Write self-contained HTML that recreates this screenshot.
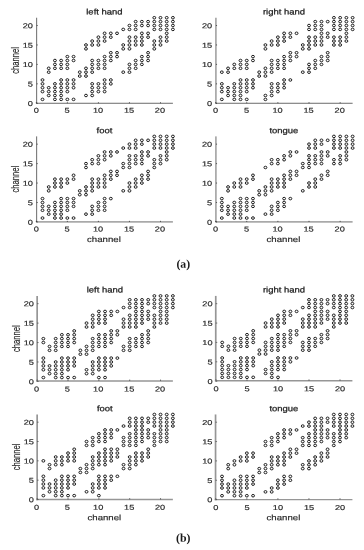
<!DOCTYPE html>
<html><head><meta charset="utf-8"><title>figure</title>
<style>
html,body{margin:0;padding:0;background:#fff;}
svg{display:block}
text.s{font-family:"Liberation Sans",Arial,sans-serif;}
text.r{font-family:"Liberation Serif","Times New Roman",serif;}
</style></head><body>
<svg width="364" height="550" viewBox="0 0 364 550">
<rect width="364" height="550" fill="#fff"/>
<g>
<g>
<path d="M36.65,17.74V103.63" fill="none" stroke="#2a2a2a" stroke-width="0.7"/>
<path d="M36.30,103.28H172.92" fill="none" stroke="#2a2a2a" stroke-width="0.7"/>
<path d="M36.30,103.28v-1.1M36.65,103.28h1.1M67.35,103.28v-1.1M36.65,83.84h1.1M98.40,103.28v-1.1M36.65,64.40h1.1M129.45,103.28v-1.1M36.65,44.96h1.1M160.50,103.28v-1.1M36.65,25.52h1.1" fill="none" stroke="#2a2a2a" stroke-width="0.7"/>
<text class="s" transform="translate(36.20,112.78) rotate(0.03) scale(1.3,1)" font-size="7.1" text-anchor="middle" fill="#262626" stroke="#262626" stroke-width="0.16">0</text>
<text class="s" transform="translate(32.90,105.98) rotate(0.03) scale(1.3,1)" font-size="7.1" text-anchor="end" fill="#262626" stroke="#262626" stroke-width="0.16">0</text>
<text class="s" transform="translate(67.15,112.78) rotate(0.03) scale(1.3,1)" font-size="7.1" text-anchor="middle" fill="#262626" stroke="#262626" stroke-width="0.16">5</text>
<text class="s" transform="translate(32.90,86.54) rotate(0.03) scale(1.3,1)" font-size="7.1" text-anchor="end" fill="#262626" stroke="#262626" stroke-width="0.16">5</text>
<text class="s" transform="translate(98.10,112.78) rotate(0.03) scale(1.3,1)" font-size="7.1" text-anchor="middle" fill="#262626" stroke="#262626" stroke-width="0.16">10</text>
<text class="s" transform="translate(32.90,67.10) rotate(0.03) scale(1.3,1)" font-size="7.1" text-anchor="end" fill="#262626" stroke="#262626" stroke-width="0.16">10</text>
<text class="s" transform="translate(129.05,112.78) rotate(0.03) scale(1.3,1)" font-size="7.1" text-anchor="middle" fill="#262626" stroke="#262626" stroke-width="0.16">15</text>
<text class="s" transform="translate(32.90,47.66) rotate(0.03) scale(1.3,1)" font-size="7.1" text-anchor="end" fill="#262626" stroke="#262626" stroke-width="0.16">15</text>
<text class="s" transform="translate(160.00,112.78) rotate(0.03) scale(1.3,1)" font-size="7.1" text-anchor="middle" fill="#262626" stroke="#262626" stroke-width="0.16">20</text>
<text class="s" transform="translate(32.90,28.22) rotate(0.03) scale(1.3,1)" font-size="7.1" text-anchor="end" fill="#262626" stroke="#262626" stroke-width="0.16">20</text>
<text class="s" transform="translate(104.41,14.59) rotate(0.03) scale(1.17,1)" font-size="8.1" text-anchor="middle" fill="#1a1a1a" stroke="#1a1a1a" stroke-width="0.24">left hand</text>
<text class="s" transform="translate(19.00,60.51) rotate(-90) scale(0.74,1)" font-size="10.3" text-anchor="middle" fill="#262626" stroke="#262626" stroke-width="0.16">channel</text>
<g fill="none" stroke="#1c1c1c" stroke-width="1.0"><ellipse cx="42.51" cy="99.39" rx="1.45" ry="1.28"/><ellipse cx="42.51" cy="91.62" rx="1.45" ry="1.28"/><ellipse cx="42.51" cy="87.73" rx="1.45" ry="1.28"/><ellipse cx="42.51" cy="83.84" rx="1.45" ry="1.28"/><ellipse cx="42.51" cy="79.95" rx="1.45" ry="1.28"/><ellipse cx="48.72" cy="95.50" rx="1.45" ry="1.28"/><ellipse cx="48.72" cy="91.62" rx="1.45" ry="1.28"/><ellipse cx="48.72" cy="87.73" rx="1.45" ry="1.28"/><ellipse cx="48.72" cy="72.18" rx="1.45" ry="1.28"/><ellipse cx="48.72" cy="68.29" rx="1.45" ry="1.28"/><ellipse cx="54.93" cy="99.39" rx="1.45" ry="1.28"/><ellipse cx="54.93" cy="95.50" rx="1.45" ry="1.28"/><ellipse cx="54.93" cy="91.62" rx="1.45" ry="1.28"/><ellipse cx="54.93" cy="87.73" rx="1.45" ry="1.28"/><ellipse cx="54.93" cy="83.84" rx="1.45" ry="1.28"/><ellipse cx="54.93" cy="68.29" rx="1.45" ry="1.28"/><ellipse cx="54.93" cy="64.40" rx="1.45" ry="1.28"/><ellipse cx="54.93" cy="60.51" rx="1.45" ry="1.28"/><ellipse cx="61.14" cy="99.39" rx="1.45" ry="1.28"/><ellipse cx="61.14" cy="95.50" rx="1.45" ry="1.28"/><ellipse cx="61.14" cy="91.62" rx="1.45" ry="1.28"/><ellipse cx="61.14" cy="87.73" rx="1.45" ry="1.28"/><ellipse cx="61.14" cy="83.84" rx="1.45" ry="1.28"/><ellipse cx="61.14" cy="79.95" rx="1.45" ry="1.28"/><ellipse cx="61.14" cy="68.29" rx="1.45" ry="1.28"/><ellipse cx="61.14" cy="64.40" rx="1.45" ry="1.28"/><ellipse cx="61.14" cy="60.51" rx="1.45" ry="1.28"/><ellipse cx="67.35" cy="99.39" rx="1.45" ry="1.28"/><ellipse cx="67.35" cy="91.62" rx="1.45" ry="1.28"/><ellipse cx="67.35" cy="87.73" rx="1.45" ry="1.28"/><ellipse cx="67.35" cy="83.84" rx="1.45" ry="1.28"/><ellipse cx="67.35" cy="79.95" rx="1.45" ry="1.28"/><ellipse cx="67.35" cy="68.29" rx="1.45" ry="1.28"/><ellipse cx="67.35" cy="64.40" rx="1.45" ry="1.28"/><ellipse cx="67.35" cy="60.51" rx="1.45" ry="1.28"/><ellipse cx="67.35" cy="56.62" rx="1.45" ry="1.28"/><ellipse cx="73.56" cy="99.39" rx="1.45" ry="1.28"/><ellipse cx="73.56" cy="87.73" rx="1.45" ry="1.28"/><ellipse cx="73.56" cy="83.84" rx="1.45" ry="1.28"/><ellipse cx="73.56" cy="79.95" rx="1.45" ry="1.28"/><ellipse cx="73.56" cy="60.51" rx="1.45" ry="1.28"/><ellipse cx="73.56" cy="56.62" rx="1.45" ry="1.28"/><ellipse cx="79.77" cy="76.06" rx="1.45" ry="1.28"/><ellipse cx="79.77" cy="72.18" rx="1.45" ry="1.28"/><ellipse cx="85.98" cy="95.50" rx="1.45" ry="1.28"/><ellipse cx="85.98" cy="76.06" rx="1.45" ry="1.28"/><ellipse cx="85.98" cy="72.18" rx="1.45" ry="1.28"/><ellipse cx="85.98" cy="68.29" rx="1.45" ry="1.28"/><ellipse cx="85.98" cy="48.85" rx="1.45" ry="1.28"/><ellipse cx="85.98" cy="44.96" rx="1.45" ry="1.28"/><ellipse cx="92.19" cy="95.50" rx="1.45" ry="1.28"/><ellipse cx="92.19" cy="91.62" rx="1.45" ry="1.28"/><ellipse cx="92.19" cy="87.73" rx="1.45" ry="1.28"/><ellipse cx="92.19" cy="83.84" rx="1.45" ry="1.28"/><ellipse cx="92.19" cy="72.18" rx="1.45" ry="1.28"/><ellipse cx="92.19" cy="68.29" rx="1.45" ry="1.28"/><ellipse cx="92.19" cy="64.40" rx="1.45" ry="1.28"/><ellipse cx="92.19" cy="60.51" rx="1.45" ry="1.28"/><ellipse cx="92.19" cy="44.96" rx="1.45" ry="1.28"/><ellipse cx="92.19" cy="41.07" rx="1.45" ry="1.28"/><ellipse cx="98.40" cy="91.62" rx="1.45" ry="1.28"/><ellipse cx="98.40" cy="87.73" rx="1.45" ry="1.28"/><ellipse cx="98.40" cy="83.84" rx="1.45" ry="1.28"/><ellipse cx="98.40" cy="68.29" rx="1.45" ry="1.28"/><ellipse cx="98.40" cy="64.40" rx="1.45" ry="1.28"/><ellipse cx="98.40" cy="60.51" rx="1.45" ry="1.28"/><ellipse cx="98.40" cy="44.96" rx="1.45" ry="1.28"/><ellipse cx="98.40" cy="41.07" rx="1.45" ry="1.28"/><ellipse cx="98.40" cy="37.18" rx="1.45" ry="1.28"/><ellipse cx="104.61" cy="91.62" rx="1.45" ry="1.28"/><ellipse cx="104.61" cy="87.73" rx="1.45" ry="1.28"/><ellipse cx="104.61" cy="83.84" rx="1.45" ry="1.28"/><ellipse cx="104.61" cy="79.95" rx="1.45" ry="1.28"/><ellipse cx="104.61" cy="68.29" rx="1.45" ry="1.28"/><ellipse cx="104.61" cy="64.40" rx="1.45" ry="1.28"/><ellipse cx="104.61" cy="60.51" rx="1.45" ry="1.28"/><ellipse cx="104.61" cy="56.62" rx="1.45" ry="1.28"/><ellipse cx="104.61" cy="41.07" rx="1.45" ry="1.28"/><ellipse cx="104.61" cy="37.18" rx="1.45" ry="1.28"/><ellipse cx="104.61" cy="33.30" rx="1.45" ry="1.28"/><ellipse cx="110.82" cy="83.84" rx="1.45" ry="1.28"/><ellipse cx="110.82" cy="79.95" rx="1.45" ry="1.28"/><ellipse cx="110.82" cy="60.51" rx="1.45" ry="1.28"/><ellipse cx="110.82" cy="56.62" rx="1.45" ry="1.28"/><ellipse cx="110.82" cy="52.74" rx="1.45" ry="1.28"/><ellipse cx="110.82" cy="37.18" rx="1.45" ry="1.28"/><ellipse cx="110.82" cy="33.30" rx="1.45" ry="1.28"/><ellipse cx="117.03" cy="56.62" rx="1.45" ry="1.28"/><ellipse cx="117.03" cy="52.74" rx="1.45" ry="1.28"/><ellipse cx="117.03" cy="33.30" rx="1.45" ry="1.28"/><ellipse cx="123.24" cy="72.18" rx="1.45" ry="1.28"/><ellipse cx="123.24" cy="48.85" rx="1.45" ry="1.28"/><ellipse cx="123.24" cy="44.96" rx="1.45" ry="1.28"/><ellipse cx="123.24" cy="29.41" rx="1.45" ry="1.28"/><ellipse cx="129.45" cy="72.18" rx="1.45" ry="1.28"/><ellipse cx="129.45" cy="68.29" rx="1.45" ry="1.28"/><ellipse cx="129.45" cy="64.40" rx="1.45" ry="1.28"/><ellipse cx="129.45" cy="48.85" rx="1.45" ry="1.28"/><ellipse cx="129.45" cy="44.96" rx="1.45" ry="1.28"/><ellipse cx="129.45" cy="41.07" rx="1.45" ry="1.28"/><ellipse cx="129.45" cy="37.18" rx="1.45" ry="1.28"/><ellipse cx="129.45" cy="29.41" rx="1.45" ry="1.28"/><ellipse cx="129.45" cy="25.52" rx="1.45" ry="1.28"/><ellipse cx="135.66" cy="68.29" rx="1.45" ry="1.28"/><ellipse cx="135.66" cy="64.40" rx="1.45" ry="1.28"/><ellipse cx="135.66" cy="60.51" rx="1.45" ry="1.28"/><ellipse cx="135.66" cy="44.96" rx="1.45" ry="1.28"/><ellipse cx="135.66" cy="41.07" rx="1.45" ry="1.28"/><ellipse cx="135.66" cy="37.18" rx="1.45" ry="1.28"/><ellipse cx="135.66" cy="29.41" rx="1.45" ry="1.28"/><ellipse cx="135.66" cy="25.52" rx="1.45" ry="1.28"/><ellipse cx="135.66" cy="21.63" rx="1.45" ry="1.28"/><ellipse cx="141.87" cy="64.40" rx="1.45" ry="1.28"/><ellipse cx="141.87" cy="60.51" rx="1.45" ry="1.28"/><ellipse cx="141.87" cy="56.62" rx="1.45" ry="1.28"/><ellipse cx="141.87" cy="44.96" rx="1.45" ry="1.28"/><ellipse cx="141.87" cy="41.07" rx="1.45" ry="1.28"/><ellipse cx="141.87" cy="37.18" rx="1.45" ry="1.28"/><ellipse cx="141.87" cy="33.30" rx="1.45" ry="1.28"/><ellipse cx="141.87" cy="25.52" rx="1.45" ry="1.28"/><ellipse cx="141.87" cy="21.63" rx="1.45" ry="1.28"/><ellipse cx="148.08" cy="60.51" rx="1.45" ry="1.28"/><ellipse cx="148.08" cy="56.62" rx="1.45" ry="1.28"/><ellipse cx="148.08" cy="52.74" rx="1.45" ry="1.28"/><ellipse cx="148.08" cy="37.18" rx="1.45" ry="1.28"/><ellipse cx="148.08" cy="33.30" rx="1.45" ry="1.28"/><ellipse cx="148.08" cy="25.52" rx="1.45" ry="1.28"/><ellipse cx="148.08" cy="21.63" rx="1.45" ry="1.28"/><ellipse cx="154.29" cy="48.85" rx="1.45" ry="1.28"/><ellipse cx="154.29" cy="44.96" rx="1.45" ry="1.28"/><ellipse cx="154.29" cy="41.07" rx="1.45" ry="1.28"/><ellipse cx="154.29" cy="29.41" rx="1.45" ry="1.28"/><ellipse cx="154.29" cy="25.52" rx="1.45" ry="1.28"/><ellipse cx="154.29" cy="21.63" rx="1.45" ry="1.28"/><ellipse cx="154.29" cy="17.74" rx="1.45" ry="1.28"/><ellipse cx="160.50" cy="44.96" rx="1.45" ry="1.28"/><ellipse cx="160.50" cy="41.07" rx="1.45" ry="1.28"/><ellipse cx="160.50" cy="37.18" rx="1.45" ry="1.28"/><ellipse cx="160.50" cy="29.41" rx="1.45" ry="1.28"/><ellipse cx="160.50" cy="25.52" rx="1.45" ry="1.28"/><ellipse cx="160.50" cy="21.63" rx="1.45" ry="1.28"/><ellipse cx="160.50" cy="17.74" rx="1.45" ry="1.28"/><ellipse cx="166.71" cy="41.07" rx="1.45" ry="1.28"/><ellipse cx="166.71" cy="37.18" rx="1.45" ry="1.28"/><ellipse cx="166.71" cy="33.30" rx="1.45" ry="1.28"/><ellipse cx="166.71" cy="29.41" rx="1.45" ry="1.28"/><ellipse cx="166.71" cy="25.52" rx="1.45" ry="1.28"/><ellipse cx="166.71" cy="21.63" rx="1.45" ry="1.28"/><ellipse cx="166.71" cy="17.74" rx="1.45" ry="1.28"/><ellipse cx="172.92" cy="29.41" rx="1.45" ry="1.28"/><ellipse cx="172.92" cy="25.52" rx="1.45" ry="1.28"/><ellipse cx="172.92" cy="21.63" rx="1.45" ry="1.28"/><ellipse cx="172.92" cy="17.74" rx="1.45" ry="1.28"/></g>
</g>
<g>
<path d="M215.95,17.74V103.63" fill="none" stroke="#2a2a2a" stroke-width="0.7"/>
<path d="M215.60,103.28H352.62" fill="none" stroke="#2a2a2a" stroke-width="0.7"/>
<path d="M215.60,103.28v-1.1M215.95,103.28h1.1M246.74,103.28v-1.1M215.95,83.84h1.1M277.88,103.28v-1.1M215.95,64.40h1.1M309.02,103.28v-1.1M215.95,44.96h1.1M340.16,103.28v-1.1M215.95,25.52h1.1" fill="none" stroke="#2a2a2a" stroke-width="0.7"/>
<text class="s" transform="translate(215.50,112.78) rotate(0.03) scale(1.3,1)" font-size="7.1" text-anchor="middle" fill="#262626" stroke="#262626" stroke-width="0.16">0</text>
<text class="s" transform="translate(212.20,105.98) rotate(0.03) scale(1.3,1)" font-size="7.1" text-anchor="end" fill="#262626" stroke="#262626" stroke-width="0.16">0</text>
<text class="s" transform="translate(246.54,112.78) rotate(0.03) scale(1.3,1)" font-size="7.1" text-anchor="middle" fill="#262626" stroke="#262626" stroke-width="0.16">5</text>
<text class="s" transform="translate(212.20,86.54) rotate(0.03) scale(1.3,1)" font-size="7.1" text-anchor="end" fill="#262626" stroke="#262626" stroke-width="0.16">5</text>
<text class="s" transform="translate(277.58,112.78) rotate(0.03) scale(1.3,1)" font-size="7.1" text-anchor="middle" fill="#262626" stroke="#262626" stroke-width="0.16">10</text>
<text class="s" transform="translate(212.20,67.10) rotate(0.03) scale(1.3,1)" font-size="7.1" text-anchor="end" fill="#262626" stroke="#262626" stroke-width="0.16">10</text>
<text class="s" transform="translate(308.62,112.78) rotate(0.03) scale(1.3,1)" font-size="7.1" text-anchor="middle" fill="#262626" stroke="#262626" stroke-width="0.16">15</text>
<text class="s" transform="translate(212.20,47.66) rotate(0.03) scale(1.3,1)" font-size="7.1" text-anchor="end" fill="#262626" stroke="#262626" stroke-width="0.16">15</text>
<text class="s" transform="translate(339.66,112.78) rotate(0.03) scale(1.3,1)" font-size="7.1" text-anchor="middle" fill="#262626" stroke="#262626" stroke-width="0.16">20</text>
<text class="s" transform="translate(212.20,28.22) rotate(0.03) scale(1.3,1)" font-size="7.1" text-anchor="end" fill="#262626" stroke="#262626" stroke-width="0.16">20</text>
<text class="s" transform="translate(283.91,14.59) rotate(0.03) scale(1.17,1)" font-size="8.1" text-anchor="middle" fill="#1a1a1a" stroke="#1a1a1a" stroke-width="0.24">right hand</text>
<g fill="none" stroke="#1c1c1c" stroke-width="1.0"><ellipse cx="221.83" cy="99.39" rx="1.45" ry="1.28"/><ellipse cx="221.83" cy="91.62" rx="1.45" ry="1.28"/><ellipse cx="221.83" cy="87.73" rx="1.45" ry="1.28"/><ellipse cx="221.83" cy="83.84" rx="1.45" ry="1.28"/><ellipse cx="221.83" cy="72.18" rx="1.45" ry="1.28"/><ellipse cx="228.06" cy="95.50" rx="1.45" ry="1.28"/><ellipse cx="228.06" cy="91.62" rx="1.45" ry="1.28"/><ellipse cx="228.06" cy="87.73" rx="1.45" ry="1.28"/><ellipse cx="228.06" cy="72.18" rx="1.45" ry="1.28"/><ellipse cx="228.06" cy="68.29" rx="1.45" ry="1.28"/><ellipse cx="234.28" cy="99.39" rx="1.45" ry="1.28"/><ellipse cx="234.28" cy="95.50" rx="1.45" ry="1.28"/><ellipse cx="234.28" cy="91.62" rx="1.45" ry="1.28"/><ellipse cx="234.28" cy="87.73" rx="1.45" ry="1.28"/><ellipse cx="234.28" cy="83.84" rx="1.45" ry="1.28"/><ellipse cx="234.28" cy="68.29" rx="1.45" ry="1.28"/><ellipse cx="234.28" cy="64.40" rx="1.45" ry="1.28"/><ellipse cx="240.51" cy="99.39" rx="1.45" ry="1.28"/><ellipse cx="240.51" cy="95.50" rx="1.45" ry="1.28"/><ellipse cx="240.51" cy="91.62" rx="1.45" ry="1.28"/><ellipse cx="240.51" cy="87.73" rx="1.45" ry="1.28"/><ellipse cx="240.51" cy="83.84" rx="1.45" ry="1.28"/><ellipse cx="240.51" cy="79.95" rx="1.45" ry="1.28"/><ellipse cx="240.51" cy="68.29" rx="1.45" ry="1.28"/><ellipse cx="240.51" cy="64.40" rx="1.45" ry="1.28"/><ellipse cx="240.51" cy="60.51" rx="1.45" ry="1.28"/><ellipse cx="246.74" cy="99.39" rx="1.45" ry="1.28"/><ellipse cx="246.74" cy="91.62" rx="1.45" ry="1.28"/><ellipse cx="246.74" cy="87.73" rx="1.45" ry="1.28"/><ellipse cx="246.74" cy="83.84" rx="1.45" ry="1.28"/><ellipse cx="246.74" cy="79.95" rx="1.45" ry="1.28"/><ellipse cx="246.74" cy="68.29" rx="1.45" ry="1.28"/><ellipse cx="246.74" cy="64.40" rx="1.45" ry="1.28"/><ellipse cx="246.74" cy="60.51" rx="1.45" ry="1.28"/><ellipse cx="252.97" cy="87.73" rx="1.45" ry="1.28"/><ellipse cx="252.97" cy="83.84" rx="1.45" ry="1.28"/><ellipse cx="252.97" cy="79.95" rx="1.45" ry="1.28"/><ellipse cx="252.97" cy="60.51" rx="1.45" ry="1.28"/><ellipse cx="252.97" cy="56.62" rx="1.45" ry="1.28"/><ellipse cx="259.20" cy="76.06" rx="1.45" ry="1.28"/><ellipse cx="259.20" cy="72.18" rx="1.45" ry="1.28"/><ellipse cx="265.42" cy="99.39" rx="1.45" ry="1.28"/><ellipse cx="265.42" cy="95.50" rx="1.45" ry="1.28"/><ellipse cx="265.42" cy="76.06" rx="1.45" ry="1.28"/><ellipse cx="265.42" cy="72.18" rx="1.45" ry="1.28"/><ellipse cx="265.42" cy="68.29" rx="1.45" ry="1.28"/><ellipse cx="265.42" cy="48.85" rx="1.45" ry="1.28"/><ellipse cx="265.42" cy="44.96" rx="1.45" ry="1.28"/><ellipse cx="271.65" cy="95.50" rx="1.45" ry="1.28"/><ellipse cx="271.65" cy="91.62" rx="1.45" ry="1.28"/><ellipse cx="271.65" cy="87.73" rx="1.45" ry="1.28"/><ellipse cx="271.65" cy="83.84" rx="1.45" ry="1.28"/><ellipse cx="271.65" cy="72.18" rx="1.45" ry="1.28"/><ellipse cx="271.65" cy="68.29" rx="1.45" ry="1.28"/><ellipse cx="271.65" cy="64.40" rx="1.45" ry="1.28"/><ellipse cx="271.65" cy="60.51" rx="1.45" ry="1.28"/><ellipse cx="271.65" cy="44.96" rx="1.45" ry="1.28"/><ellipse cx="271.65" cy="41.07" rx="1.45" ry="1.28"/><ellipse cx="277.88" cy="91.62" rx="1.45" ry="1.28"/><ellipse cx="277.88" cy="87.73" rx="1.45" ry="1.28"/><ellipse cx="277.88" cy="83.84" rx="1.45" ry="1.28"/><ellipse cx="277.88" cy="68.29" rx="1.45" ry="1.28"/><ellipse cx="277.88" cy="64.40" rx="1.45" ry="1.28"/><ellipse cx="277.88" cy="60.51" rx="1.45" ry="1.28"/><ellipse cx="277.88" cy="44.96" rx="1.45" ry="1.28"/><ellipse cx="277.88" cy="41.07" rx="1.45" ry="1.28"/><ellipse cx="277.88" cy="37.18" rx="1.45" ry="1.28"/><ellipse cx="284.11" cy="87.73" rx="1.45" ry="1.28"/><ellipse cx="284.11" cy="83.84" rx="1.45" ry="1.28"/><ellipse cx="284.11" cy="79.95" rx="1.45" ry="1.28"/><ellipse cx="284.11" cy="68.29" rx="1.45" ry="1.28"/><ellipse cx="284.11" cy="64.40" rx="1.45" ry="1.28"/><ellipse cx="284.11" cy="60.51" rx="1.45" ry="1.28"/><ellipse cx="284.11" cy="56.62" rx="1.45" ry="1.28"/><ellipse cx="284.11" cy="41.07" rx="1.45" ry="1.28"/><ellipse cx="284.11" cy="37.18" rx="1.45" ry="1.28"/><ellipse cx="284.11" cy="33.30" rx="1.45" ry="1.28"/><ellipse cx="290.34" cy="79.95" rx="1.45" ry="1.28"/><ellipse cx="290.34" cy="60.51" rx="1.45" ry="1.28"/><ellipse cx="290.34" cy="56.62" rx="1.45" ry="1.28"/><ellipse cx="290.34" cy="52.74" rx="1.45" ry="1.28"/><ellipse cx="290.34" cy="37.18" rx="1.45" ry="1.28"/><ellipse cx="290.34" cy="33.30" rx="1.45" ry="1.28"/><ellipse cx="296.56" cy="56.62" rx="1.45" ry="1.28"/><ellipse cx="296.56" cy="52.74" rx="1.45" ry="1.28"/><ellipse cx="296.56" cy="33.30" rx="1.45" ry="1.28"/><ellipse cx="302.79" cy="72.18" rx="1.45" ry="1.28"/><ellipse cx="302.79" cy="48.85" rx="1.45" ry="1.28"/><ellipse cx="302.79" cy="44.96" rx="1.45" ry="1.28"/><ellipse cx="309.02" cy="72.18" rx="1.45" ry="1.28"/><ellipse cx="309.02" cy="68.29" rx="1.45" ry="1.28"/><ellipse cx="309.02" cy="64.40" rx="1.45" ry="1.28"/><ellipse cx="309.02" cy="48.85" rx="1.45" ry="1.28"/><ellipse cx="309.02" cy="44.96" rx="1.45" ry="1.28"/><ellipse cx="309.02" cy="41.07" rx="1.45" ry="1.28"/><ellipse cx="309.02" cy="37.18" rx="1.45" ry="1.28"/><ellipse cx="309.02" cy="29.41" rx="1.45" ry="1.28"/><ellipse cx="309.02" cy="25.52" rx="1.45" ry="1.28"/><ellipse cx="315.25" cy="68.29" rx="1.45" ry="1.28"/><ellipse cx="315.25" cy="64.40" rx="1.45" ry="1.28"/><ellipse cx="315.25" cy="60.51" rx="1.45" ry="1.28"/><ellipse cx="315.25" cy="44.96" rx="1.45" ry="1.28"/><ellipse cx="315.25" cy="41.07" rx="1.45" ry="1.28"/><ellipse cx="315.25" cy="37.18" rx="1.45" ry="1.28"/><ellipse cx="315.25" cy="29.41" rx="1.45" ry="1.28"/><ellipse cx="315.25" cy="25.52" rx="1.45" ry="1.28"/><ellipse cx="315.25" cy="21.63" rx="1.45" ry="1.28"/><ellipse cx="321.48" cy="64.40" rx="1.45" ry="1.28"/><ellipse cx="321.48" cy="60.51" rx="1.45" ry="1.28"/><ellipse cx="321.48" cy="56.62" rx="1.45" ry="1.28"/><ellipse cx="321.48" cy="44.96" rx="1.45" ry="1.28"/><ellipse cx="321.48" cy="41.07" rx="1.45" ry="1.28"/><ellipse cx="321.48" cy="37.18" rx="1.45" ry="1.28"/><ellipse cx="321.48" cy="33.30" rx="1.45" ry="1.28"/><ellipse cx="321.48" cy="29.41" rx="1.45" ry="1.28"/><ellipse cx="321.48" cy="25.52" rx="1.45" ry="1.28"/><ellipse cx="321.48" cy="21.63" rx="1.45" ry="1.28"/><ellipse cx="327.70" cy="60.51" rx="1.45" ry="1.28"/><ellipse cx="327.70" cy="56.62" rx="1.45" ry="1.28"/><ellipse cx="327.70" cy="52.74" rx="1.45" ry="1.28"/><ellipse cx="327.70" cy="37.18" rx="1.45" ry="1.28"/><ellipse cx="327.70" cy="33.30" rx="1.45" ry="1.28"/><ellipse cx="327.70" cy="21.63" rx="1.45" ry="1.28"/><ellipse cx="333.93" cy="44.96" rx="1.45" ry="1.28"/><ellipse cx="333.93" cy="41.07" rx="1.45" ry="1.28"/><ellipse cx="333.93" cy="37.18" rx="1.45" ry="1.28"/><ellipse cx="333.93" cy="29.41" rx="1.45" ry="1.28"/><ellipse cx="333.93" cy="25.52" rx="1.45" ry="1.28"/><ellipse cx="333.93" cy="21.63" rx="1.45" ry="1.28"/><ellipse cx="333.93" cy="17.74" rx="1.45" ry="1.28"/><ellipse cx="340.16" cy="44.96" rx="1.45" ry="1.28"/><ellipse cx="340.16" cy="41.07" rx="1.45" ry="1.28"/><ellipse cx="340.16" cy="37.18" rx="1.45" ry="1.28"/><ellipse cx="340.16" cy="29.41" rx="1.45" ry="1.28"/><ellipse cx="340.16" cy="25.52" rx="1.45" ry="1.28"/><ellipse cx="340.16" cy="21.63" rx="1.45" ry="1.28"/><ellipse cx="340.16" cy="17.74" rx="1.45" ry="1.28"/><ellipse cx="346.39" cy="41.07" rx="1.45" ry="1.28"/><ellipse cx="346.39" cy="37.18" rx="1.45" ry="1.28"/><ellipse cx="346.39" cy="33.30" rx="1.45" ry="1.28"/><ellipse cx="346.39" cy="29.41" rx="1.45" ry="1.28"/><ellipse cx="346.39" cy="25.52" rx="1.45" ry="1.28"/><ellipse cx="346.39" cy="21.63" rx="1.45" ry="1.28"/><ellipse cx="346.39" cy="17.74" rx="1.45" ry="1.28"/><ellipse cx="352.62" cy="29.41" rx="1.45" ry="1.28"/><ellipse cx="352.62" cy="25.52" rx="1.45" ry="1.28"/><ellipse cx="352.62" cy="21.63" rx="1.45" ry="1.28"/><ellipse cx="352.62" cy="17.74" rx="1.45" ry="1.28"/></g>
</g>
<g>
<path d="M36.65,136.39V222.28" fill="none" stroke="#2a2a2a" stroke-width="0.7"/>
<path d="M36.30,221.93H172.92" fill="none" stroke="#2a2a2a" stroke-width="0.7"/>
<path d="M36.30,221.93v-1.1M36.65,221.93h1.1M67.35,221.93v-1.1M36.65,202.49h1.1M98.40,221.93v-1.1M36.65,183.05h1.1M129.45,221.93v-1.1M36.65,163.61h1.1M160.50,221.93v-1.1M36.65,144.17h1.1" fill="none" stroke="#2a2a2a" stroke-width="0.7"/>
<text class="s" transform="translate(36.20,231.43) rotate(0.03) scale(1.3,1)" font-size="7.1" text-anchor="middle" fill="#262626" stroke="#262626" stroke-width="0.16">0</text>
<text class="s" transform="translate(32.90,224.63) rotate(0.03) scale(1.3,1)" font-size="7.1" text-anchor="end" fill="#262626" stroke="#262626" stroke-width="0.16">0</text>
<text class="s" transform="translate(67.15,231.43) rotate(0.03) scale(1.3,1)" font-size="7.1" text-anchor="middle" fill="#262626" stroke="#262626" stroke-width="0.16">5</text>
<text class="s" transform="translate(32.90,205.19) rotate(0.03) scale(1.3,1)" font-size="7.1" text-anchor="end" fill="#262626" stroke="#262626" stroke-width="0.16">5</text>
<text class="s" transform="translate(98.10,231.43) rotate(0.03) scale(1.3,1)" font-size="7.1" text-anchor="middle" fill="#262626" stroke="#262626" stroke-width="0.16">10</text>
<text class="s" transform="translate(32.90,185.75) rotate(0.03) scale(1.3,1)" font-size="7.1" text-anchor="end" fill="#262626" stroke="#262626" stroke-width="0.16">10</text>
<text class="s" transform="translate(129.05,231.43) rotate(0.03) scale(1.3,1)" font-size="7.1" text-anchor="middle" fill="#262626" stroke="#262626" stroke-width="0.16">15</text>
<text class="s" transform="translate(32.90,166.31) rotate(0.03) scale(1.3,1)" font-size="7.1" text-anchor="end" fill="#262626" stroke="#262626" stroke-width="0.16">15</text>
<text class="s" transform="translate(160.00,231.43) rotate(0.03) scale(1.3,1)" font-size="7.1" text-anchor="middle" fill="#262626" stroke="#262626" stroke-width="0.16">20</text>
<text class="s" transform="translate(32.90,146.87) rotate(0.03) scale(1.3,1)" font-size="7.1" text-anchor="end" fill="#262626" stroke="#262626" stroke-width="0.16">20</text>
<text class="s" transform="translate(104.41,133.24) rotate(0.03) scale(1.17,1)" font-size="8.1" text-anchor="middle" fill="#1a1a1a" stroke="#1a1a1a" stroke-width="0.24">foot</text>
<text class="s" transform="translate(19.00,179.16) rotate(-90) scale(0.74,1)" font-size="10.3" text-anchor="middle" fill="#262626" stroke="#262626" stroke-width="0.16">channel</text>
<text class="s" transform="translate(103.91,242.03) rotate(0.03) scale(1.22,1)" font-size="7.9" text-anchor="middle" fill="#262626" stroke="#262626" stroke-width="0.16">channel</text>
<g fill="none" stroke="#1c1c1c" stroke-width="1.0"><ellipse cx="42.51" cy="218.04" rx="1.45" ry="1.28"/><ellipse cx="42.51" cy="210.27" rx="1.45" ry="1.28"/><ellipse cx="42.51" cy="206.38" rx="1.45" ry="1.28"/><ellipse cx="42.51" cy="202.49" rx="1.45" ry="1.28"/><ellipse cx="42.51" cy="198.60" rx="1.45" ry="1.28"/><ellipse cx="48.72" cy="214.15" rx="1.45" ry="1.28"/><ellipse cx="48.72" cy="210.27" rx="1.45" ry="1.28"/><ellipse cx="48.72" cy="206.38" rx="1.45" ry="1.28"/><ellipse cx="48.72" cy="190.83" rx="1.45" ry="1.28"/><ellipse cx="48.72" cy="186.94" rx="1.45" ry="1.28"/><ellipse cx="54.93" cy="218.04" rx="1.45" ry="1.28"/><ellipse cx="54.93" cy="214.15" rx="1.45" ry="1.28"/><ellipse cx="54.93" cy="210.27" rx="1.45" ry="1.28"/><ellipse cx="54.93" cy="206.38" rx="1.45" ry="1.28"/><ellipse cx="54.93" cy="202.49" rx="1.45" ry="1.28"/><ellipse cx="54.93" cy="186.94" rx="1.45" ry="1.28"/><ellipse cx="54.93" cy="183.05" rx="1.45" ry="1.28"/><ellipse cx="54.93" cy="179.16" rx="1.45" ry="1.28"/><ellipse cx="61.14" cy="218.04" rx="1.45" ry="1.28"/><ellipse cx="61.14" cy="214.15" rx="1.45" ry="1.28"/><ellipse cx="61.14" cy="210.27" rx="1.45" ry="1.28"/><ellipse cx="61.14" cy="206.38" rx="1.45" ry="1.28"/><ellipse cx="61.14" cy="202.49" rx="1.45" ry="1.28"/><ellipse cx="61.14" cy="198.60" rx="1.45" ry="1.28"/><ellipse cx="61.14" cy="186.94" rx="1.45" ry="1.28"/><ellipse cx="61.14" cy="183.05" rx="1.45" ry="1.28"/><ellipse cx="61.14" cy="179.16" rx="1.45" ry="1.28"/><ellipse cx="67.35" cy="218.04" rx="1.45" ry="1.28"/><ellipse cx="67.35" cy="210.27" rx="1.45" ry="1.28"/><ellipse cx="67.35" cy="206.38" rx="1.45" ry="1.28"/><ellipse cx="67.35" cy="202.49" rx="1.45" ry="1.28"/><ellipse cx="67.35" cy="198.60" rx="1.45" ry="1.28"/><ellipse cx="67.35" cy="183.05" rx="1.45" ry="1.28"/><ellipse cx="67.35" cy="179.16" rx="1.45" ry="1.28"/><ellipse cx="73.56" cy="218.04" rx="1.45" ry="1.28"/><ellipse cx="73.56" cy="206.38" rx="1.45" ry="1.28"/><ellipse cx="73.56" cy="202.49" rx="1.45" ry="1.28"/><ellipse cx="73.56" cy="198.60" rx="1.45" ry="1.28"/><ellipse cx="73.56" cy="179.16" rx="1.45" ry="1.28"/><ellipse cx="73.56" cy="175.27" rx="1.45" ry="1.28"/><ellipse cx="79.77" cy="194.71" rx="1.45" ry="1.28"/><ellipse cx="79.77" cy="190.83" rx="1.45" ry="1.28"/><ellipse cx="85.98" cy="214.15" rx="1.45" ry="1.28"/><ellipse cx="85.98" cy="194.71" rx="1.45" ry="1.28"/><ellipse cx="85.98" cy="190.83" rx="1.45" ry="1.28"/><ellipse cx="85.98" cy="186.94" rx="1.45" ry="1.28"/><ellipse cx="85.98" cy="167.50" rx="1.45" ry="1.28"/><ellipse cx="85.98" cy="163.61" rx="1.45" ry="1.28"/><ellipse cx="92.19" cy="214.15" rx="1.45" ry="1.28"/><ellipse cx="92.19" cy="210.27" rx="1.45" ry="1.28"/><ellipse cx="92.19" cy="206.38" rx="1.45" ry="1.28"/><ellipse cx="92.19" cy="190.83" rx="1.45" ry="1.28"/><ellipse cx="92.19" cy="186.94" rx="1.45" ry="1.28"/><ellipse cx="92.19" cy="183.05" rx="1.45" ry="1.28"/><ellipse cx="92.19" cy="179.16" rx="1.45" ry="1.28"/><ellipse cx="92.19" cy="163.61" rx="1.45" ry="1.28"/><ellipse cx="92.19" cy="159.72" rx="1.45" ry="1.28"/><ellipse cx="98.40" cy="210.27" rx="1.45" ry="1.28"/><ellipse cx="98.40" cy="206.38" rx="1.45" ry="1.28"/><ellipse cx="98.40" cy="202.49" rx="1.45" ry="1.28"/><ellipse cx="98.40" cy="186.94" rx="1.45" ry="1.28"/><ellipse cx="98.40" cy="183.05" rx="1.45" ry="1.28"/><ellipse cx="98.40" cy="179.16" rx="1.45" ry="1.28"/><ellipse cx="98.40" cy="163.61" rx="1.45" ry="1.28"/><ellipse cx="98.40" cy="159.72" rx="1.45" ry="1.28"/><ellipse cx="98.40" cy="155.83" rx="1.45" ry="1.28"/><ellipse cx="104.61" cy="210.27" rx="1.45" ry="1.28"/><ellipse cx="104.61" cy="206.38" rx="1.45" ry="1.28"/><ellipse cx="104.61" cy="202.49" rx="1.45" ry="1.28"/><ellipse cx="104.61" cy="198.60" rx="1.45" ry="1.28"/><ellipse cx="104.61" cy="186.94" rx="1.45" ry="1.28"/><ellipse cx="104.61" cy="183.05" rx="1.45" ry="1.28"/><ellipse cx="104.61" cy="179.16" rx="1.45" ry="1.28"/><ellipse cx="104.61" cy="175.27" rx="1.45" ry="1.28"/><ellipse cx="104.61" cy="159.72" rx="1.45" ry="1.28"/><ellipse cx="104.61" cy="155.83" rx="1.45" ry="1.28"/><ellipse cx="104.61" cy="151.95" rx="1.45" ry="1.28"/><ellipse cx="110.82" cy="198.60" rx="1.45" ry="1.28"/><ellipse cx="110.82" cy="179.16" rx="1.45" ry="1.28"/><ellipse cx="110.82" cy="175.27" rx="1.45" ry="1.28"/><ellipse cx="110.82" cy="171.39" rx="1.45" ry="1.28"/><ellipse cx="110.82" cy="155.83" rx="1.45" ry="1.28"/><ellipse cx="110.82" cy="151.95" rx="1.45" ry="1.28"/><ellipse cx="117.03" cy="175.27" rx="1.45" ry="1.28"/><ellipse cx="117.03" cy="171.39" rx="1.45" ry="1.28"/><ellipse cx="117.03" cy="151.95" rx="1.45" ry="1.28"/><ellipse cx="123.24" cy="190.83" rx="1.45" ry="1.28"/><ellipse cx="123.24" cy="167.50" rx="1.45" ry="1.28"/><ellipse cx="123.24" cy="163.61" rx="1.45" ry="1.28"/><ellipse cx="123.24" cy="148.06" rx="1.45" ry="1.28"/><ellipse cx="129.45" cy="190.83" rx="1.45" ry="1.28"/><ellipse cx="129.45" cy="186.94" rx="1.45" ry="1.28"/><ellipse cx="129.45" cy="183.05" rx="1.45" ry="1.28"/><ellipse cx="129.45" cy="167.50" rx="1.45" ry="1.28"/><ellipse cx="129.45" cy="163.61" rx="1.45" ry="1.28"/><ellipse cx="129.45" cy="159.72" rx="1.45" ry="1.28"/><ellipse cx="129.45" cy="155.83" rx="1.45" ry="1.28"/><ellipse cx="129.45" cy="148.06" rx="1.45" ry="1.28"/><ellipse cx="129.45" cy="144.17" rx="1.45" ry="1.28"/><ellipse cx="135.66" cy="186.94" rx="1.45" ry="1.28"/><ellipse cx="135.66" cy="183.05" rx="1.45" ry="1.28"/><ellipse cx="135.66" cy="179.16" rx="1.45" ry="1.28"/><ellipse cx="135.66" cy="163.61" rx="1.45" ry="1.28"/><ellipse cx="135.66" cy="159.72" rx="1.45" ry="1.28"/><ellipse cx="135.66" cy="155.83" rx="1.45" ry="1.28"/><ellipse cx="135.66" cy="148.06" rx="1.45" ry="1.28"/><ellipse cx="135.66" cy="144.17" rx="1.45" ry="1.28"/><ellipse cx="135.66" cy="140.28" rx="1.45" ry="1.28"/><ellipse cx="141.87" cy="183.05" rx="1.45" ry="1.28"/><ellipse cx="141.87" cy="179.16" rx="1.45" ry="1.28"/><ellipse cx="141.87" cy="175.27" rx="1.45" ry="1.28"/><ellipse cx="141.87" cy="163.61" rx="1.45" ry="1.28"/><ellipse cx="141.87" cy="159.72" rx="1.45" ry="1.28"/><ellipse cx="141.87" cy="155.83" rx="1.45" ry="1.28"/><ellipse cx="141.87" cy="151.95" rx="1.45" ry="1.28"/><ellipse cx="141.87" cy="144.17" rx="1.45" ry="1.28"/><ellipse cx="141.87" cy="140.28" rx="1.45" ry="1.28"/><ellipse cx="148.08" cy="179.16" rx="1.45" ry="1.28"/><ellipse cx="148.08" cy="175.27" rx="1.45" ry="1.28"/><ellipse cx="148.08" cy="171.39" rx="1.45" ry="1.28"/><ellipse cx="148.08" cy="155.83" rx="1.45" ry="1.28"/><ellipse cx="148.08" cy="151.95" rx="1.45" ry="1.28"/><ellipse cx="148.08" cy="140.28" rx="1.45" ry="1.28"/><ellipse cx="154.29" cy="167.50" rx="1.45" ry="1.28"/><ellipse cx="154.29" cy="163.61" rx="1.45" ry="1.28"/><ellipse cx="154.29" cy="159.72" rx="1.45" ry="1.28"/><ellipse cx="154.29" cy="148.06" rx="1.45" ry="1.28"/><ellipse cx="154.29" cy="144.17" rx="1.45" ry="1.28"/><ellipse cx="154.29" cy="140.28" rx="1.45" ry="1.28"/><ellipse cx="154.29" cy="136.39" rx="1.45" ry="1.28"/><ellipse cx="160.50" cy="163.61" rx="1.45" ry="1.28"/><ellipse cx="160.50" cy="159.72" rx="1.45" ry="1.28"/><ellipse cx="160.50" cy="155.83" rx="1.45" ry="1.28"/><ellipse cx="160.50" cy="148.06" rx="1.45" ry="1.28"/><ellipse cx="160.50" cy="144.17" rx="1.45" ry="1.28"/><ellipse cx="160.50" cy="140.28" rx="1.45" ry="1.28"/><ellipse cx="160.50" cy="136.39" rx="1.45" ry="1.28"/><ellipse cx="166.71" cy="159.72" rx="1.45" ry="1.28"/><ellipse cx="166.71" cy="155.83" rx="1.45" ry="1.28"/><ellipse cx="166.71" cy="151.95" rx="1.45" ry="1.28"/><ellipse cx="166.71" cy="148.06" rx="1.45" ry="1.28"/><ellipse cx="166.71" cy="144.17" rx="1.45" ry="1.28"/><ellipse cx="166.71" cy="140.28" rx="1.45" ry="1.28"/><ellipse cx="166.71" cy="136.39" rx="1.45" ry="1.28"/><ellipse cx="172.92" cy="148.06" rx="1.45" ry="1.28"/><ellipse cx="172.92" cy="144.17" rx="1.45" ry="1.28"/><ellipse cx="172.92" cy="140.28" rx="1.45" ry="1.28"/><ellipse cx="172.92" cy="136.39" rx="1.45" ry="1.28"/></g>
</g>
<g>
<path d="M215.95,136.39V222.28" fill="none" stroke="#2a2a2a" stroke-width="0.7"/>
<path d="M215.60,221.93H352.62" fill="none" stroke="#2a2a2a" stroke-width="0.7"/>
<path d="M215.60,221.93v-1.1M215.95,221.93h1.1M246.74,221.93v-1.1M215.95,202.49h1.1M277.88,221.93v-1.1M215.95,183.05h1.1M309.02,221.93v-1.1M215.95,163.61h1.1M340.16,221.93v-1.1M215.95,144.17h1.1" fill="none" stroke="#2a2a2a" stroke-width="0.7"/>
<text class="s" transform="translate(215.50,231.43) rotate(0.03) scale(1.3,1)" font-size="7.1" text-anchor="middle" fill="#262626" stroke="#262626" stroke-width="0.16">0</text>
<text class="s" transform="translate(212.20,224.63) rotate(0.03) scale(1.3,1)" font-size="7.1" text-anchor="end" fill="#262626" stroke="#262626" stroke-width="0.16">0</text>
<text class="s" transform="translate(246.54,231.43) rotate(0.03) scale(1.3,1)" font-size="7.1" text-anchor="middle" fill="#262626" stroke="#262626" stroke-width="0.16">5</text>
<text class="s" transform="translate(212.20,205.19) rotate(0.03) scale(1.3,1)" font-size="7.1" text-anchor="end" fill="#262626" stroke="#262626" stroke-width="0.16">5</text>
<text class="s" transform="translate(277.58,231.43) rotate(0.03) scale(1.3,1)" font-size="7.1" text-anchor="middle" fill="#262626" stroke="#262626" stroke-width="0.16">10</text>
<text class="s" transform="translate(212.20,185.75) rotate(0.03) scale(1.3,1)" font-size="7.1" text-anchor="end" fill="#262626" stroke="#262626" stroke-width="0.16">10</text>
<text class="s" transform="translate(308.62,231.43) rotate(0.03) scale(1.3,1)" font-size="7.1" text-anchor="middle" fill="#262626" stroke="#262626" stroke-width="0.16">15</text>
<text class="s" transform="translate(212.20,166.31) rotate(0.03) scale(1.3,1)" font-size="7.1" text-anchor="end" fill="#262626" stroke="#262626" stroke-width="0.16">15</text>
<text class="s" transform="translate(339.66,231.43) rotate(0.03) scale(1.3,1)" font-size="7.1" text-anchor="middle" fill="#262626" stroke="#262626" stroke-width="0.16">20</text>
<text class="s" transform="translate(212.20,146.87) rotate(0.03) scale(1.3,1)" font-size="7.1" text-anchor="end" fill="#262626" stroke="#262626" stroke-width="0.16">20</text>
<text class="s" transform="translate(283.91,133.24) rotate(0.03) scale(1.17,1)" font-size="8.1" text-anchor="middle" fill="#1a1a1a" stroke="#1a1a1a" stroke-width="0.24">tongue</text>
<text class="s" transform="translate(283.41,242.03) rotate(0.03) scale(1.22,1)" font-size="7.9" text-anchor="middle" fill="#262626" stroke="#262626" stroke-width="0.16">channel</text>
<g fill="none" stroke="#1c1c1c" stroke-width="1.0"><ellipse cx="221.83" cy="218.04" rx="1.45" ry="1.28"/><ellipse cx="221.83" cy="210.27" rx="1.45" ry="1.28"/><ellipse cx="221.83" cy="206.38" rx="1.45" ry="1.28"/><ellipse cx="221.83" cy="202.49" rx="1.45" ry="1.28"/><ellipse cx="221.83" cy="198.60" rx="1.45" ry="1.28"/><ellipse cx="228.06" cy="214.15" rx="1.45" ry="1.28"/><ellipse cx="228.06" cy="210.27" rx="1.45" ry="1.28"/><ellipse cx="228.06" cy="206.38" rx="1.45" ry="1.28"/><ellipse cx="228.06" cy="190.83" rx="1.45" ry="1.28"/><ellipse cx="228.06" cy="186.94" rx="1.45" ry="1.28"/><ellipse cx="234.28" cy="218.04" rx="1.45" ry="1.28"/><ellipse cx="234.28" cy="214.15" rx="1.45" ry="1.28"/><ellipse cx="234.28" cy="210.27" rx="1.45" ry="1.28"/><ellipse cx="234.28" cy="206.38" rx="1.45" ry="1.28"/><ellipse cx="234.28" cy="202.49" rx="1.45" ry="1.28"/><ellipse cx="234.28" cy="186.94" rx="1.45" ry="1.28"/><ellipse cx="234.28" cy="183.05" rx="1.45" ry="1.28"/><ellipse cx="240.51" cy="218.04" rx="1.45" ry="1.28"/><ellipse cx="240.51" cy="214.15" rx="1.45" ry="1.28"/><ellipse cx="240.51" cy="210.27" rx="1.45" ry="1.28"/><ellipse cx="240.51" cy="206.38" rx="1.45" ry="1.28"/><ellipse cx="240.51" cy="202.49" rx="1.45" ry="1.28"/><ellipse cx="240.51" cy="198.60" rx="1.45" ry="1.28"/><ellipse cx="240.51" cy="186.94" rx="1.45" ry="1.28"/><ellipse cx="240.51" cy="183.05" rx="1.45" ry="1.28"/><ellipse cx="240.51" cy="179.16" rx="1.45" ry="1.28"/><ellipse cx="246.74" cy="218.04" rx="1.45" ry="1.28"/><ellipse cx="246.74" cy="210.27" rx="1.45" ry="1.28"/><ellipse cx="246.74" cy="206.38" rx="1.45" ry="1.28"/><ellipse cx="246.74" cy="202.49" rx="1.45" ry="1.28"/><ellipse cx="246.74" cy="198.60" rx="1.45" ry="1.28"/><ellipse cx="246.74" cy="183.05" rx="1.45" ry="1.28"/><ellipse cx="246.74" cy="179.16" rx="1.45" ry="1.28"/><ellipse cx="252.97" cy="218.04" rx="1.45" ry="1.28"/><ellipse cx="252.97" cy="206.38" rx="1.45" ry="1.28"/><ellipse cx="252.97" cy="202.49" rx="1.45" ry="1.28"/><ellipse cx="252.97" cy="198.60" rx="1.45" ry="1.28"/><ellipse cx="252.97" cy="179.16" rx="1.45" ry="1.28"/><ellipse cx="252.97" cy="175.27" rx="1.45" ry="1.28"/><ellipse cx="259.20" cy="194.71" rx="1.45" ry="1.28"/><ellipse cx="259.20" cy="190.83" rx="1.45" ry="1.28"/><ellipse cx="265.42" cy="214.15" rx="1.45" ry="1.28"/><ellipse cx="265.42" cy="194.71" rx="1.45" ry="1.28"/><ellipse cx="265.42" cy="190.83" rx="1.45" ry="1.28"/><ellipse cx="265.42" cy="186.94" rx="1.45" ry="1.28"/><ellipse cx="265.42" cy="167.50" rx="1.45" ry="1.28"/><ellipse cx="271.65" cy="214.15" rx="1.45" ry="1.28"/><ellipse cx="271.65" cy="210.27" rx="1.45" ry="1.28"/><ellipse cx="271.65" cy="206.38" rx="1.45" ry="1.28"/><ellipse cx="271.65" cy="190.83" rx="1.45" ry="1.28"/><ellipse cx="271.65" cy="186.94" rx="1.45" ry="1.28"/><ellipse cx="271.65" cy="183.05" rx="1.45" ry="1.28"/><ellipse cx="271.65" cy="179.16" rx="1.45" ry="1.28"/><ellipse cx="271.65" cy="163.61" rx="1.45" ry="1.28"/><ellipse cx="271.65" cy="159.72" rx="1.45" ry="1.28"/><ellipse cx="277.88" cy="210.27" rx="1.45" ry="1.28"/><ellipse cx="277.88" cy="206.38" rx="1.45" ry="1.28"/><ellipse cx="277.88" cy="202.49" rx="1.45" ry="1.28"/><ellipse cx="277.88" cy="186.94" rx="1.45" ry="1.28"/><ellipse cx="277.88" cy="183.05" rx="1.45" ry="1.28"/><ellipse cx="277.88" cy="179.16" rx="1.45" ry="1.28"/><ellipse cx="277.88" cy="163.61" rx="1.45" ry="1.28"/><ellipse cx="277.88" cy="159.72" rx="1.45" ry="1.28"/><ellipse cx="284.11" cy="206.38" rx="1.45" ry="1.28"/><ellipse cx="284.11" cy="202.49" rx="1.45" ry="1.28"/><ellipse cx="284.11" cy="198.60" rx="1.45" ry="1.28"/><ellipse cx="284.11" cy="186.94" rx="1.45" ry="1.28"/><ellipse cx="284.11" cy="183.05" rx="1.45" ry="1.28"/><ellipse cx="284.11" cy="179.16" rx="1.45" ry="1.28"/><ellipse cx="284.11" cy="175.27" rx="1.45" ry="1.28"/><ellipse cx="284.11" cy="159.72" rx="1.45" ry="1.28"/><ellipse cx="284.11" cy="155.83" rx="1.45" ry="1.28"/><ellipse cx="290.34" cy="198.60" rx="1.45" ry="1.28"/><ellipse cx="290.34" cy="179.16" rx="1.45" ry="1.28"/><ellipse cx="290.34" cy="175.27" rx="1.45" ry="1.28"/><ellipse cx="290.34" cy="171.39" rx="1.45" ry="1.28"/><ellipse cx="290.34" cy="155.83" rx="1.45" ry="1.28"/><ellipse cx="290.34" cy="151.95" rx="1.45" ry="1.28"/><ellipse cx="296.56" cy="175.27" rx="1.45" ry="1.28"/><ellipse cx="296.56" cy="171.39" rx="1.45" ry="1.28"/><ellipse cx="296.56" cy="151.95" rx="1.45" ry="1.28"/><ellipse cx="302.79" cy="190.83" rx="1.45" ry="1.28"/><ellipse cx="302.79" cy="167.50" rx="1.45" ry="1.28"/><ellipse cx="302.79" cy="163.61" rx="1.45" ry="1.28"/><ellipse cx="309.02" cy="186.94" rx="1.45" ry="1.28"/><ellipse cx="309.02" cy="183.05" rx="1.45" ry="1.28"/><ellipse cx="309.02" cy="167.50" rx="1.45" ry="1.28"/><ellipse cx="309.02" cy="163.61" rx="1.45" ry="1.28"/><ellipse cx="309.02" cy="159.72" rx="1.45" ry="1.28"/><ellipse cx="309.02" cy="155.83" rx="1.45" ry="1.28"/><ellipse cx="309.02" cy="148.06" rx="1.45" ry="1.28"/><ellipse cx="309.02" cy="144.17" rx="1.45" ry="1.28"/><ellipse cx="315.25" cy="186.94" rx="1.45" ry="1.28"/><ellipse cx="315.25" cy="183.05" rx="1.45" ry="1.28"/><ellipse cx="315.25" cy="179.16" rx="1.45" ry="1.28"/><ellipse cx="315.25" cy="163.61" rx="1.45" ry="1.28"/><ellipse cx="315.25" cy="159.72" rx="1.45" ry="1.28"/><ellipse cx="315.25" cy="155.83" rx="1.45" ry="1.28"/><ellipse cx="315.25" cy="148.06" rx="1.45" ry="1.28"/><ellipse cx="315.25" cy="144.17" rx="1.45" ry="1.28"/><ellipse cx="315.25" cy="140.28" rx="1.45" ry="1.28"/><ellipse cx="321.48" cy="179.16" rx="1.45" ry="1.28"/><ellipse cx="321.48" cy="175.27" rx="1.45" ry="1.28"/><ellipse cx="321.48" cy="163.61" rx="1.45" ry="1.28"/><ellipse cx="321.48" cy="159.72" rx="1.45" ry="1.28"/><ellipse cx="321.48" cy="155.83" rx="1.45" ry="1.28"/><ellipse cx="321.48" cy="151.95" rx="1.45" ry="1.28"/><ellipse cx="321.48" cy="144.17" rx="1.45" ry="1.28"/><ellipse cx="321.48" cy="140.28" rx="1.45" ry="1.28"/><ellipse cx="327.70" cy="175.27" rx="1.45" ry="1.28"/><ellipse cx="327.70" cy="171.39" rx="1.45" ry="1.28"/><ellipse cx="327.70" cy="155.83" rx="1.45" ry="1.28"/><ellipse cx="327.70" cy="151.95" rx="1.45" ry="1.28"/><ellipse cx="327.70" cy="140.28" rx="1.45" ry="1.28"/><ellipse cx="333.93" cy="163.61" rx="1.45" ry="1.28"/><ellipse cx="333.93" cy="159.72" rx="1.45" ry="1.28"/><ellipse cx="333.93" cy="148.06" rx="1.45" ry="1.28"/><ellipse cx="333.93" cy="144.17" rx="1.45" ry="1.28"/><ellipse cx="333.93" cy="140.28" rx="1.45" ry="1.28"/><ellipse cx="333.93" cy="136.39" rx="1.45" ry="1.28"/><ellipse cx="340.16" cy="163.61" rx="1.45" ry="1.28"/><ellipse cx="340.16" cy="159.72" rx="1.45" ry="1.28"/><ellipse cx="340.16" cy="155.83" rx="1.45" ry="1.28"/><ellipse cx="340.16" cy="148.06" rx="1.45" ry="1.28"/><ellipse cx="340.16" cy="144.17" rx="1.45" ry="1.28"/><ellipse cx="340.16" cy="140.28" rx="1.45" ry="1.28"/><ellipse cx="340.16" cy="136.39" rx="1.45" ry="1.28"/><ellipse cx="346.39" cy="159.72" rx="1.45" ry="1.28"/><ellipse cx="346.39" cy="155.83" rx="1.45" ry="1.28"/><ellipse cx="346.39" cy="151.95" rx="1.45" ry="1.28"/><ellipse cx="346.39" cy="148.06" rx="1.45" ry="1.28"/><ellipse cx="346.39" cy="144.17" rx="1.45" ry="1.28"/><ellipse cx="346.39" cy="140.28" rx="1.45" ry="1.28"/><ellipse cx="346.39" cy="136.39" rx="1.45" ry="1.28"/><ellipse cx="352.62" cy="148.06" rx="1.45" ry="1.28"/><ellipse cx="352.62" cy="144.17" rx="1.45" ry="1.28"/><ellipse cx="352.62" cy="140.28" rx="1.45" ry="1.28"/><ellipse cx="352.62" cy="136.39" rx="1.45" ry="1.28"/></g>
</g>
<g>
<path d="M37.15,295.89V381.70" fill="none" stroke="#969696" stroke-width="1.7"/>
<path d="M36.30,381.00H172.87" fill="none" stroke="#969696" stroke-width="1.4"/>
<path d="M37.20,381.00v-1.5M37.15,381.43h1.5M68.03,381.00v-1.5M37.15,361.99h1.5M98.87,381.00v-1.5M37.15,342.55h1.5M129.70,381.00v-1.5M37.15,323.11h1.5M160.54,381.00v-1.5M37.15,303.67h1.5" fill="none" stroke="#333" stroke-width="0.6"/>
<text class="s" transform="translate(36.45,391.53) rotate(0.03) scale(1.3,1)" font-size="7.1" text-anchor="middle" fill="#262626" stroke="#262626" stroke-width="0.16">0</text>
<text class="s" transform="translate(34.00,384.13) rotate(0.03) scale(1.3,1)" font-size="7.1" text-anchor="end" fill="#262626" stroke="#262626" stroke-width="0.16">0</text>
<text class="s" transform="translate(67.35,391.53) rotate(0.03) scale(1.3,1)" font-size="7.1" text-anchor="middle" fill="#262626" stroke="#262626" stroke-width="0.16">5</text>
<text class="s" transform="translate(34.00,364.69) rotate(0.03) scale(1.3,1)" font-size="7.1" text-anchor="end" fill="#262626" stroke="#262626" stroke-width="0.16">5</text>
<text class="s" transform="translate(98.25,391.53) rotate(0.03) scale(1.3,1)" font-size="7.1" text-anchor="middle" fill="#262626" stroke="#262626" stroke-width="0.16">10</text>
<text class="s" transform="translate(34.00,345.25) rotate(0.03) scale(1.3,1)" font-size="7.1" text-anchor="end" fill="#262626" stroke="#262626" stroke-width="0.16">10</text>
<text class="s" transform="translate(129.15,391.53) rotate(0.03) scale(1.3,1)" font-size="7.1" text-anchor="middle" fill="#262626" stroke="#262626" stroke-width="0.16">15</text>
<text class="s" transform="translate(34.00,325.81) rotate(0.03) scale(1.3,1)" font-size="7.1" text-anchor="end" fill="#262626" stroke="#262626" stroke-width="0.16">15</text>
<text class="s" transform="translate(160.05,391.53) rotate(0.03) scale(1.3,1)" font-size="7.1" text-anchor="middle" fill="#262626" stroke="#262626" stroke-width="0.16">20</text>
<text class="s" transform="translate(34.00,306.37) rotate(0.03) scale(1.3,1)" font-size="7.1" text-anchor="end" fill="#262626" stroke="#262626" stroke-width="0.16">20</text>
<text class="s" transform="translate(104.84,292.59) rotate(0.03) scale(1.17,1)" font-size="8.1" text-anchor="middle" fill="#1a1a1a" stroke="#1a1a1a" stroke-width="0.24">left hand</text>
<text class="s" transform="translate(19.90,338.66) rotate(-90) scale(0.74,1)" font-size="10.3" text-anchor="middle" fill="#262626" stroke="#262626" stroke-width="0.16">channel</text>
<g fill="none" stroke="#1c1c1c" stroke-width="1.0"><ellipse cx="43.37" cy="377.54" rx="1.45" ry="1.28"/><ellipse cx="43.37" cy="369.77" rx="1.45" ry="1.28"/><ellipse cx="43.37" cy="365.88" rx="1.45" ry="1.28"/><ellipse cx="43.37" cy="361.99" rx="1.45" ry="1.28"/><ellipse cx="43.37" cy="358.10" rx="1.45" ry="1.28"/><ellipse cx="43.37" cy="342.55" rx="1.45" ry="1.28"/><ellipse cx="43.37" cy="338.66" rx="1.45" ry="1.28"/><ellipse cx="49.53" cy="373.65" rx="1.45" ry="1.28"/><ellipse cx="49.53" cy="369.77" rx="1.45" ry="1.28"/><ellipse cx="49.53" cy="365.88" rx="1.45" ry="1.28"/><ellipse cx="49.53" cy="350.33" rx="1.45" ry="1.28"/><ellipse cx="49.53" cy="346.44" rx="1.45" ry="1.28"/><ellipse cx="55.70" cy="377.54" rx="1.45" ry="1.28"/><ellipse cx="55.70" cy="373.65" rx="1.45" ry="1.28"/><ellipse cx="55.70" cy="369.77" rx="1.45" ry="1.28"/><ellipse cx="55.70" cy="365.88" rx="1.45" ry="1.28"/><ellipse cx="55.70" cy="361.99" rx="1.45" ry="1.28"/><ellipse cx="55.70" cy="350.33" rx="1.45" ry="1.28"/><ellipse cx="55.70" cy="346.44" rx="1.45" ry="1.28"/><ellipse cx="55.70" cy="342.55" rx="1.45" ry="1.28"/><ellipse cx="55.70" cy="338.66" rx="1.45" ry="1.28"/><ellipse cx="61.87" cy="377.54" rx="1.45" ry="1.28"/><ellipse cx="61.87" cy="373.65" rx="1.45" ry="1.28"/><ellipse cx="61.87" cy="369.77" rx="1.45" ry="1.28"/><ellipse cx="61.87" cy="365.88" rx="1.45" ry="1.28"/><ellipse cx="61.87" cy="361.99" rx="1.45" ry="1.28"/><ellipse cx="61.87" cy="358.10" rx="1.45" ry="1.28"/><ellipse cx="61.87" cy="346.44" rx="1.45" ry="1.28"/><ellipse cx="61.87" cy="342.55" rx="1.45" ry="1.28"/><ellipse cx="61.87" cy="338.66" rx="1.45" ry="1.28"/><ellipse cx="61.87" cy="334.77" rx="1.45" ry="1.28"/><ellipse cx="68.03" cy="377.54" rx="1.45" ry="1.28"/><ellipse cx="68.03" cy="369.77" rx="1.45" ry="1.28"/><ellipse cx="68.03" cy="365.88" rx="1.45" ry="1.28"/><ellipse cx="68.03" cy="361.99" rx="1.45" ry="1.28"/><ellipse cx="68.03" cy="358.10" rx="1.45" ry="1.28"/><ellipse cx="68.03" cy="346.44" rx="1.45" ry="1.28"/><ellipse cx="68.03" cy="342.55" rx="1.45" ry="1.28"/><ellipse cx="68.03" cy="338.66" rx="1.45" ry="1.28"/><ellipse cx="68.03" cy="334.77" rx="1.45" ry="1.28"/><ellipse cx="74.20" cy="377.54" rx="1.45" ry="1.28"/><ellipse cx="74.20" cy="365.88" rx="1.45" ry="1.28"/><ellipse cx="74.20" cy="361.99" rx="1.45" ry="1.28"/><ellipse cx="74.20" cy="358.10" rx="1.45" ry="1.28"/><ellipse cx="74.20" cy="342.55" rx="1.45" ry="1.28"/><ellipse cx="74.20" cy="338.66" rx="1.45" ry="1.28"/><ellipse cx="74.20" cy="334.77" rx="1.45" ry="1.28"/><ellipse cx="74.20" cy="330.89" rx="1.45" ry="1.28"/><ellipse cx="80.37" cy="354.21" rx="1.45" ry="1.28"/><ellipse cx="80.37" cy="350.33" rx="1.45" ry="1.28"/><ellipse cx="86.54" cy="373.65" rx="1.45" ry="1.28"/><ellipse cx="86.54" cy="369.77" rx="1.45" ry="1.28"/><ellipse cx="86.54" cy="354.21" rx="1.45" ry="1.28"/><ellipse cx="86.54" cy="350.33" rx="1.45" ry="1.28"/><ellipse cx="86.54" cy="346.44" rx="1.45" ry="1.28"/><ellipse cx="86.54" cy="327.00" rx="1.45" ry="1.28"/><ellipse cx="86.54" cy="323.11" rx="1.45" ry="1.28"/><ellipse cx="92.70" cy="373.65" rx="1.45" ry="1.28"/><ellipse cx="92.70" cy="369.77" rx="1.45" ry="1.28"/><ellipse cx="92.70" cy="365.88" rx="1.45" ry="1.28"/><ellipse cx="92.70" cy="361.99" rx="1.45" ry="1.28"/><ellipse cx="92.70" cy="350.33" rx="1.45" ry="1.28"/><ellipse cx="92.70" cy="346.44" rx="1.45" ry="1.28"/><ellipse cx="92.70" cy="342.55" rx="1.45" ry="1.28"/><ellipse cx="92.70" cy="338.66" rx="1.45" ry="1.28"/><ellipse cx="92.70" cy="327.00" rx="1.45" ry="1.28"/><ellipse cx="92.70" cy="323.11" rx="1.45" ry="1.28"/><ellipse cx="92.70" cy="319.22" rx="1.45" ry="1.28"/><ellipse cx="92.70" cy="315.33" rx="1.45" ry="1.28"/><ellipse cx="98.87" cy="377.54" rx="1.45" ry="1.28"/><ellipse cx="98.87" cy="369.77" rx="1.45" ry="1.28"/><ellipse cx="98.87" cy="365.88" rx="1.45" ry="1.28"/><ellipse cx="98.87" cy="361.99" rx="1.45" ry="1.28"/><ellipse cx="98.87" cy="358.10" rx="1.45" ry="1.28"/><ellipse cx="98.87" cy="346.44" rx="1.45" ry="1.28"/><ellipse cx="98.87" cy="342.55" rx="1.45" ry="1.28"/><ellipse cx="98.87" cy="338.66" rx="1.45" ry="1.28"/><ellipse cx="98.87" cy="334.77" rx="1.45" ry="1.28"/><ellipse cx="98.87" cy="323.11" rx="1.45" ry="1.28"/><ellipse cx="98.87" cy="319.22" rx="1.45" ry="1.28"/><ellipse cx="98.87" cy="315.33" rx="1.45" ry="1.28"/><ellipse cx="98.87" cy="311.45" rx="1.45" ry="1.28"/><ellipse cx="105.04" cy="377.54" rx="1.45" ry="1.28"/><ellipse cx="105.04" cy="369.77" rx="1.45" ry="1.28"/><ellipse cx="105.04" cy="365.88" rx="1.45" ry="1.28"/><ellipse cx="105.04" cy="361.99" rx="1.45" ry="1.28"/><ellipse cx="105.04" cy="358.10" rx="1.45" ry="1.28"/><ellipse cx="105.04" cy="346.44" rx="1.45" ry="1.28"/><ellipse cx="105.04" cy="342.55" rx="1.45" ry="1.28"/><ellipse cx="105.04" cy="338.66" rx="1.45" ry="1.28"/><ellipse cx="105.04" cy="334.77" rx="1.45" ry="1.28"/><ellipse cx="105.04" cy="323.11" rx="1.45" ry="1.28"/><ellipse cx="105.04" cy="319.22" rx="1.45" ry="1.28"/><ellipse cx="105.04" cy="315.33" rx="1.45" ry="1.28"/><ellipse cx="105.04" cy="311.45" rx="1.45" ry="1.28"/><ellipse cx="111.20" cy="365.88" rx="1.45" ry="1.28"/><ellipse cx="111.20" cy="361.99" rx="1.45" ry="1.28"/><ellipse cx="111.20" cy="358.10" rx="1.45" ry="1.28"/><ellipse cx="111.20" cy="342.55" rx="1.45" ry="1.28"/><ellipse cx="111.20" cy="338.66" rx="1.45" ry="1.28"/><ellipse cx="111.20" cy="334.77" rx="1.45" ry="1.28"/><ellipse cx="111.20" cy="330.89" rx="1.45" ry="1.28"/><ellipse cx="111.20" cy="315.33" rx="1.45" ry="1.28"/><ellipse cx="111.20" cy="311.45" rx="1.45" ry="1.28"/><ellipse cx="117.37" cy="358.10" rx="1.45" ry="1.28"/><ellipse cx="117.37" cy="334.77" rx="1.45" ry="1.28"/><ellipse cx="117.37" cy="330.89" rx="1.45" ry="1.28"/><ellipse cx="117.37" cy="311.45" rx="1.45" ry="1.28"/><ellipse cx="123.54" cy="350.33" rx="1.45" ry="1.28"/><ellipse cx="123.54" cy="346.44" rx="1.45" ry="1.28"/><ellipse cx="123.54" cy="327.00" rx="1.45" ry="1.28"/><ellipse cx="123.54" cy="323.11" rx="1.45" ry="1.28"/><ellipse cx="123.54" cy="319.22" rx="1.45" ry="1.28"/><ellipse cx="123.54" cy="307.56" rx="1.45" ry="1.28"/><ellipse cx="129.70" cy="350.33" rx="1.45" ry="1.28"/><ellipse cx="129.70" cy="346.44" rx="1.45" ry="1.28"/><ellipse cx="129.70" cy="342.55" rx="1.45" ry="1.28"/><ellipse cx="129.70" cy="338.66" rx="1.45" ry="1.28"/><ellipse cx="129.70" cy="327.00" rx="1.45" ry="1.28"/><ellipse cx="129.70" cy="323.11" rx="1.45" ry="1.28"/><ellipse cx="129.70" cy="319.22" rx="1.45" ry="1.28"/><ellipse cx="129.70" cy="315.33" rx="1.45" ry="1.28"/><ellipse cx="129.70" cy="307.56" rx="1.45" ry="1.28"/><ellipse cx="129.70" cy="303.67" rx="1.45" ry="1.28"/><ellipse cx="129.70" cy="299.78" rx="1.45" ry="1.28"/><ellipse cx="135.87" cy="346.44" rx="1.45" ry="1.28"/><ellipse cx="135.87" cy="342.55" rx="1.45" ry="1.28"/><ellipse cx="135.87" cy="338.66" rx="1.45" ry="1.28"/><ellipse cx="135.87" cy="327.00" rx="1.45" ry="1.28"/><ellipse cx="135.87" cy="323.11" rx="1.45" ry="1.28"/><ellipse cx="135.87" cy="319.22" rx="1.45" ry="1.28"/><ellipse cx="135.87" cy="315.33" rx="1.45" ry="1.28"/><ellipse cx="135.87" cy="311.45" rx="1.45" ry="1.28"/><ellipse cx="135.87" cy="307.56" rx="1.45" ry="1.28"/><ellipse cx="135.87" cy="303.67" rx="1.45" ry="1.28"/><ellipse cx="135.87" cy="299.78" rx="1.45" ry="1.28"/><ellipse cx="142.04" cy="346.44" rx="1.45" ry="1.28"/><ellipse cx="142.04" cy="342.55" rx="1.45" ry="1.28"/><ellipse cx="142.04" cy="338.66" rx="1.45" ry="1.28"/><ellipse cx="142.04" cy="334.77" rx="1.45" ry="1.28"/><ellipse cx="142.04" cy="323.11" rx="1.45" ry="1.28"/><ellipse cx="142.04" cy="319.22" rx="1.45" ry="1.28"/><ellipse cx="142.04" cy="315.33" rx="1.45" ry="1.28"/><ellipse cx="142.04" cy="311.45" rx="1.45" ry="1.28"/><ellipse cx="142.04" cy="307.56" rx="1.45" ry="1.28"/><ellipse cx="142.04" cy="303.67" rx="1.45" ry="1.28"/><ellipse cx="142.04" cy="299.78" rx="1.45" ry="1.28"/><ellipse cx="148.21" cy="342.55" rx="1.45" ry="1.28"/><ellipse cx="148.21" cy="338.66" rx="1.45" ry="1.28"/><ellipse cx="148.21" cy="334.77" rx="1.45" ry="1.28"/><ellipse cx="148.21" cy="330.89" rx="1.45" ry="1.28"/><ellipse cx="148.21" cy="319.22" rx="1.45" ry="1.28"/><ellipse cx="148.21" cy="315.33" rx="1.45" ry="1.28"/><ellipse cx="148.21" cy="311.45" rx="1.45" ry="1.28"/><ellipse cx="148.21" cy="303.67" rx="1.45" ry="1.28"/><ellipse cx="148.21" cy="299.78" rx="1.45" ry="1.28"/><ellipse cx="154.37" cy="327.00" rx="1.45" ry="1.28"/><ellipse cx="154.37" cy="323.11" rx="1.45" ry="1.28"/><ellipse cx="154.37" cy="319.22" rx="1.45" ry="1.28"/><ellipse cx="154.37" cy="315.33" rx="1.45" ry="1.28"/><ellipse cx="154.37" cy="307.56" rx="1.45" ry="1.28"/><ellipse cx="154.37" cy="303.67" rx="1.45" ry="1.28"/><ellipse cx="154.37" cy="299.78" rx="1.45" ry="1.28"/><ellipse cx="154.37" cy="295.89" rx="1.45" ry="1.28"/><ellipse cx="160.54" cy="323.11" rx="1.45" ry="1.28"/><ellipse cx="160.54" cy="319.22" rx="1.45" ry="1.28"/><ellipse cx="160.54" cy="315.33" rx="1.45" ry="1.28"/><ellipse cx="160.54" cy="311.45" rx="1.45" ry="1.28"/><ellipse cx="160.54" cy="307.56" rx="1.45" ry="1.28"/><ellipse cx="160.54" cy="303.67" rx="1.45" ry="1.28"/><ellipse cx="160.54" cy="299.78" rx="1.45" ry="1.28"/><ellipse cx="160.54" cy="295.89" rx="1.45" ry="1.28"/><ellipse cx="166.71" cy="323.11" rx="1.45" ry="1.28"/><ellipse cx="166.71" cy="319.22" rx="1.45" ry="1.28"/><ellipse cx="166.71" cy="315.33" rx="1.45" ry="1.28"/><ellipse cx="166.71" cy="311.45" rx="1.45" ry="1.28"/><ellipse cx="166.71" cy="307.56" rx="1.45" ry="1.28"/><ellipse cx="166.71" cy="303.67" rx="1.45" ry="1.28"/><ellipse cx="166.71" cy="299.78" rx="1.45" ry="1.28"/><ellipse cx="166.71" cy="295.89" rx="1.45" ry="1.28"/><ellipse cx="172.87" cy="307.56" rx="1.45" ry="1.28"/><ellipse cx="172.87" cy="303.67" rx="1.45" ry="1.28"/><ellipse cx="172.87" cy="299.78" rx="1.45" ry="1.28"/><ellipse cx="172.87" cy="295.89" rx="1.45" ry="1.28"/></g>
</g>
<g>
<path d="M215.75,295.91V381.47" fill="none" stroke="#969696" stroke-width="1.7"/>
<path d="M214.90,380.77H352.40" fill="none" stroke="#969696" stroke-width="1.4"/>
<path d="M216.00,380.77v-1.5M215.75,381.20h1.5M247.00,380.77v-1.5M215.75,361.81h1.5M278.00,380.77v-1.5M215.75,342.43h1.5M309.00,380.77v-1.5M215.75,323.05h1.5M340.00,380.77v-1.5M215.75,303.66h1.5" fill="none" stroke="#333" stroke-width="0.6"/>
<text class="s" transform="translate(216.10,391.30) rotate(0.03) scale(1.3,1)" font-size="7.1" text-anchor="middle" fill="#262626" stroke="#262626" stroke-width="0.16">0</text>
<text class="s" transform="translate(212.60,383.90) rotate(0.03) scale(1.3,1)" font-size="7.1" text-anchor="end" fill="#262626" stroke="#262626" stroke-width="0.16">0</text>
<text class="s" transform="translate(247.10,391.30) rotate(0.03) scale(1.3,1)" font-size="7.1" text-anchor="middle" fill="#262626" stroke="#262626" stroke-width="0.16">5</text>
<text class="s" transform="translate(212.60,364.51) rotate(0.03) scale(1.3,1)" font-size="7.1" text-anchor="end" fill="#262626" stroke="#262626" stroke-width="0.16">5</text>
<text class="s" transform="translate(278.10,391.30) rotate(0.03) scale(1.3,1)" font-size="7.1" text-anchor="middle" fill="#262626" stroke="#262626" stroke-width="0.16">10</text>
<text class="s" transform="translate(212.60,345.13) rotate(0.03) scale(1.3,1)" font-size="7.1" text-anchor="end" fill="#262626" stroke="#262626" stroke-width="0.16">10</text>
<text class="s" transform="translate(309.10,391.30) rotate(0.03) scale(1.3,1)" font-size="7.1" text-anchor="middle" fill="#262626" stroke="#262626" stroke-width="0.16">15</text>
<text class="s" transform="translate(212.60,325.75) rotate(0.03) scale(1.3,1)" font-size="7.1" text-anchor="end" fill="#262626" stroke="#262626" stroke-width="0.16">15</text>
<text class="s" transform="translate(340.10,391.30) rotate(0.03) scale(1.3,1)" font-size="7.1" text-anchor="middle" fill="#262626" stroke="#262626" stroke-width="0.16">20</text>
<text class="s" transform="translate(212.60,306.36) rotate(0.03) scale(1.3,1)" font-size="7.1" text-anchor="end" fill="#262626" stroke="#262626" stroke-width="0.16">20</text>
<text class="s" transform="translate(284.00,292.61) rotate(0.03) scale(1.17,1)" font-size="8.1" text-anchor="middle" fill="#1a1a1a" stroke="#1a1a1a" stroke-width="0.24">right hand</text>
<g fill="none" stroke="#1c1c1c" stroke-width="1.0"><ellipse cx="222.20" cy="377.32" rx="1.45" ry="1.28"/><ellipse cx="222.20" cy="373.45" rx="1.45" ry="1.28"/><ellipse cx="222.20" cy="369.57" rx="1.45" ry="1.28"/><ellipse cx="222.20" cy="365.69" rx="1.45" ry="1.28"/><ellipse cx="222.20" cy="361.81" rx="1.45" ry="1.28"/><ellipse cx="222.20" cy="357.94" rx="1.45" ry="1.28"/><ellipse cx="222.20" cy="346.31" rx="1.45" ry="1.28"/><ellipse cx="222.20" cy="342.43" rx="1.45" ry="1.28"/><ellipse cx="228.40" cy="377.32" rx="1.45" ry="1.28"/><ellipse cx="228.40" cy="373.45" rx="1.45" ry="1.28"/><ellipse cx="228.40" cy="369.57" rx="1.45" ry="1.28"/><ellipse cx="228.40" cy="365.69" rx="1.45" ry="1.28"/><ellipse cx="228.40" cy="350.18" rx="1.45" ry="1.28"/><ellipse cx="228.40" cy="346.31" rx="1.45" ry="1.28"/><ellipse cx="234.60" cy="377.32" rx="1.45" ry="1.28"/><ellipse cx="234.60" cy="373.45" rx="1.45" ry="1.28"/><ellipse cx="234.60" cy="369.57" rx="1.45" ry="1.28"/><ellipse cx="234.60" cy="365.69" rx="1.45" ry="1.28"/><ellipse cx="234.60" cy="361.81" rx="1.45" ry="1.28"/><ellipse cx="234.60" cy="350.18" rx="1.45" ry="1.28"/><ellipse cx="234.60" cy="346.31" rx="1.45" ry="1.28"/><ellipse cx="234.60" cy="342.43" rx="1.45" ry="1.28"/><ellipse cx="234.60" cy="338.55" rx="1.45" ry="1.28"/><ellipse cx="240.80" cy="377.32" rx="1.45" ry="1.28"/><ellipse cx="240.80" cy="373.45" rx="1.45" ry="1.28"/><ellipse cx="240.80" cy="369.57" rx="1.45" ry="1.28"/><ellipse cx="240.80" cy="365.69" rx="1.45" ry="1.28"/><ellipse cx="240.80" cy="361.81" rx="1.45" ry="1.28"/><ellipse cx="240.80" cy="357.94" rx="1.45" ry="1.28"/><ellipse cx="240.80" cy="346.31" rx="1.45" ry="1.28"/><ellipse cx="240.80" cy="342.43" rx="1.45" ry="1.28"/><ellipse cx="240.80" cy="338.55" rx="1.45" ry="1.28"/><ellipse cx="247.00" cy="377.32" rx="1.45" ry="1.28"/><ellipse cx="247.00" cy="369.57" rx="1.45" ry="1.28"/><ellipse cx="247.00" cy="365.69" rx="1.45" ry="1.28"/><ellipse cx="247.00" cy="361.81" rx="1.45" ry="1.28"/><ellipse cx="247.00" cy="357.94" rx="1.45" ry="1.28"/><ellipse cx="247.00" cy="346.31" rx="1.45" ry="1.28"/><ellipse cx="247.00" cy="342.43" rx="1.45" ry="1.28"/><ellipse cx="247.00" cy="338.55" rx="1.45" ry="1.28"/><ellipse cx="247.00" cy="334.68" rx="1.45" ry="1.28"/><ellipse cx="253.20" cy="377.32" rx="1.45" ry="1.28"/><ellipse cx="253.20" cy="365.69" rx="1.45" ry="1.28"/><ellipse cx="253.20" cy="361.81" rx="1.45" ry="1.28"/><ellipse cx="253.20" cy="357.94" rx="1.45" ry="1.28"/><ellipse cx="253.20" cy="342.43" rx="1.45" ry="1.28"/><ellipse cx="253.20" cy="338.55" rx="1.45" ry="1.28"/><ellipse cx="253.20" cy="334.68" rx="1.45" ry="1.28"/><ellipse cx="253.20" cy="330.80" rx="1.45" ry="1.28"/><ellipse cx="259.40" cy="354.06" rx="1.45" ry="1.28"/><ellipse cx="259.40" cy="350.18" rx="1.45" ry="1.28"/><ellipse cx="265.60" cy="373.45" rx="1.45" ry="1.28"/><ellipse cx="265.60" cy="369.57" rx="1.45" ry="1.28"/><ellipse cx="265.60" cy="354.06" rx="1.45" ry="1.28"/><ellipse cx="265.60" cy="350.18" rx="1.45" ry="1.28"/><ellipse cx="265.60" cy="346.31" rx="1.45" ry="1.28"/><ellipse cx="265.60" cy="342.43" rx="1.45" ry="1.28"/><ellipse cx="265.60" cy="326.92" rx="1.45" ry="1.28"/><ellipse cx="265.60" cy="323.05" rx="1.45" ry="1.28"/><ellipse cx="271.80" cy="377.32" rx="1.45" ry="1.28"/><ellipse cx="271.80" cy="373.45" rx="1.45" ry="1.28"/><ellipse cx="271.80" cy="369.57" rx="1.45" ry="1.28"/><ellipse cx="271.80" cy="365.69" rx="1.45" ry="1.28"/><ellipse cx="271.80" cy="361.81" rx="1.45" ry="1.28"/><ellipse cx="271.80" cy="350.18" rx="1.45" ry="1.28"/><ellipse cx="271.80" cy="346.31" rx="1.45" ry="1.28"/><ellipse cx="271.80" cy="342.43" rx="1.45" ry="1.28"/><ellipse cx="271.80" cy="338.55" rx="1.45" ry="1.28"/><ellipse cx="271.80" cy="326.92" rx="1.45" ry="1.28"/><ellipse cx="271.80" cy="323.05" rx="1.45" ry="1.28"/><ellipse cx="271.80" cy="319.17" rx="1.45" ry="1.28"/><ellipse cx="278.00" cy="377.32" rx="1.45" ry="1.28"/><ellipse cx="278.00" cy="369.57" rx="1.45" ry="1.28"/><ellipse cx="278.00" cy="365.69" rx="1.45" ry="1.28"/><ellipse cx="278.00" cy="361.81" rx="1.45" ry="1.28"/><ellipse cx="278.00" cy="357.94" rx="1.45" ry="1.28"/><ellipse cx="278.00" cy="350.18" rx="1.45" ry="1.28"/><ellipse cx="278.00" cy="346.31" rx="1.45" ry="1.28"/><ellipse cx="278.00" cy="342.43" rx="1.45" ry="1.28"/><ellipse cx="278.00" cy="338.55" rx="1.45" ry="1.28"/><ellipse cx="278.00" cy="334.68" rx="1.45" ry="1.28"/><ellipse cx="278.00" cy="326.92" rx="1.45" ry="1.28"/><ellipse cx="278.00" cy="323.05" rx="1.45" ry="1.28"/><ellipse cx="278.00" cy="319.17" rx="1.45" ry="1.28"/><ellipse cx="278.00" cy="315.29" rx="1.45" ry="1.28"/><ellipse cx="284.20" cy="369.57" rx="1.45" ry="1.28"/><ellipse cx="284.20" cy="365.69" rx="1.45" ry="1.28"/><ellipse cx="284.20" cy="361.81" rx="1.45" ry="1.28"/><ellipse cx="284.20" cy="357.94" rx="1.45" ry="1.28"/><ellipse cx="284.20" cy="346.31" rx="1.45" ry="1.28"/><ellipse cx="284.20" cy="342.43" rx="1.45" ry="1.28"/><ellipse cx="284.20" cy="338.55" rx="1.45" ry="1.28"/><ellipse cx="284.20" cy="334.68" rx="1.45" ry="1.28"/><ellipse cx="284.20" cy="323.05" rx="1.45" ry="1.28"/><ellipse cx="284.20" cy="319.17" rx="1.45" ry="1.28"/><ellipse cx="284.20" cy="315.29" rx="1.45" ry="1.28"/><ellipse cx="284.20" cy="311.41" rx="1.45" ry="1.28"/><ellipse cx="290.40" cy="361.81" rx="1.45" ry="1.28"/><ellipse cx="290.40" cy="357.94" rx="1.45" ry="1.28"/><ellipse cx="290.40" cy="342.43" rx="1.45" ry="1.28"/><ellipse cx="290.40" cy="338.55" rx="1.45" ry="1.28"/><ellipse cx="290.40" cy="334.68" rx="1.45" ry="1.28"/><ellipse cx="290.40" cy="330.80" rx="1.45" ry="1.28"/><ellipse cx="290.40" cy="315.29" rx="1.45" ry="1.28"/><ellipse cx="290.40" cy="311.41" rx="1.45" ry="1.28"/><ellipse cx="296.60" cy="357.94" rx="1.45" ry="1.28"/><ellipse cx="296.60" cy="334.68" rx="1.45" ry="1.28"/><ellipse cx="296.60" cy="330.80" rx="1.45" ry="1.28"/><ellipse cx="296.60" cy="311.41" rx="1.45" ry="1.28"/><ellipse cx="302.80" cy="350.18" rx="1.45" ry="1.28"/><ellipse cx="302.80" cy="346.31" rx="1.45" ry="1.28"/><ellipse cx="302.80" cy="342.43" rx="1.45" ry="1.28"/><ellipse cx="302.80" cy="326.92" rx="1.45" ry="1.28"/><ellipse cx="302.80" cy="323.05" rx="1.45" ry="1.28"/><ellipse cx="302.80" cy="319.17" rx="1.45" ry="1.28"/><ellipse cx="302.80" cy="307.54" rx="1.45" ry="1.28"/><ellipse cx="309.00" cy="350.18" rx="1.45" ry="1.28"/><ellipse cx="309.00" cy="346.31" rx="1.45" ry="1.28"/><ellipse cx="309.00" cy="342.43" rx="1.45" ry="1.28"/><ellipse cx="309.00" cy="338.55" rx="1.45" ry="1.28"/><ellipse cx="309.00" cy="326.92" rx="1.45" ry="1.28"/><ellipse cx="309.00" cy="323.05" rx="1.45" ry="1.28"/><ellipse cx="309.00" cy="319.17" rx="1.45" ry="1.28"/><ellipse cx="309.00" cy="315.29" rx="1.45" ry="1.28"/><ellipse cx="309.00" cy="307.54" rx="1.45" ry="1.28"/><ellipse cx="309.00" cy="303.66" rx="1.45" ry="1.28"/><ellipse cx="309.00" cy="299.78" rx="1.45" ry="1.28"/><ellipse cx="315.20" cy="346.31" rx="1.45" ry="1.28"/><ellipse cx="315.20" cy="342.43" rx="1.45" ry="1.28"/><ellipse cx="315.20" cy="338.55" rx="1.45" ry="1.28"/><ellipse cx="315.20" cy="326.92" rx="1.45" ry="1.28"/><ellipse cx="315.20" cy="323.05" rx="1.45" ry="1.28"/><ellipse cx="315.20" cy="319.17" rx="1.45" ry="1.28"/><ellipse cx="315.20" cy="315.29" rx="1.45" ry="1.28"/><ellipse cx="315.20" cy="311.41" rx="1.45" ry="1.28"/><ellipse cx="315.20" cy="307.54" rx="1.45" ry="1.28"/><ellipse cx="315.20" cy="303.66" rx="1.45" ry="1.28"/><ellipse cx="315.20" cy="299.78" rx="1.45" ry="1.28"/><ellipse cx="321.40" cy="342.43" rx="1.45" ry="1.28"/><ellipse cx="321.40" cy="338.55" rx="1.45" ry="1.28"/><ellipse cx="321.40" cy="334.68" rx="1.45" ry="1.28"/><ellipse cx="321.40" cy="323.05" rx="1.45" ry="1.28"/><ellipse cx="321.40" cy="319.17" rx="1.45" ry="1.28"/><ellipse cx="321.40" cy="315.29" rx="1.45" ry="1.28"/><ellipse cx="321.40" cy="311.41" rx="1.45" ry="1.28"/><ellipse cx="321.40" cy="307.54" rx="1.45" ry="1.28"/><ellipse cx="321.40" cy="303.66" rx="1.45" ry="1.28"/><ellipse cx="321.40" cy="299.78" rx="1.45" ry="1.28"/><ellipse cx="327.60" cy="338.55" rx="1.45" ry="1.28"/><ellipse cx="327.60" cy="334.68" rx="1.45" ry="1.28"/><ellipse cx="327.60" cy="330.80" rx="1.45" ry="1.28"/><ellipse cx="327.60" cy="319.17" rx="1.45" ry="1.28"/><ellipse cx="327.60" cy="315.29" rx="1.45" ry="1.28"/><ellipse cx="327.60" cy="311.41" rx="1.45" ry="1.28"/><ellipse cx="327.60" cy="303.66" rx="1.45" ry="1.28"/><ellipse cx="327.60" cy="299.78" rx="1.45" ry="1.28"/><ellipse cx="333.80" cy="326.92" rx="1.45" ry="1.28"/><ellipse cx="333.80" cy="323.05" rx="1.45" ry="1.28"/><ellipse cx="333.80" cy="319.17" rx="1.45" ry="1.28"/><ellipse cx="333.80" cy="315.29" rx="1.45" ry="1.28"/><ellipse cx="333.80" cy="307.54" rx="1.45" ry="1.28"/><ellipse cx="333.80" cy="303.66" rx="1.45" ry="1.28"/><ellipse cx="333.80" cy="299.78" rx="1.45" ry="1.28"/><ellipse cx="333.80" cy="295.91" rx="1.45" ry="1.28"/><ellipse cx="340.00" cy="323.05" rx="1.45" ry="1.28"/><ellipse cx="340.00" cy="319.17" rx="1.45" ry="1.28"/><ellipse cx="340.00" cy="315.29" rx="1.45" ry="1.28"/><ellipse cx="340.00" cy="311.41" rx="1.45" ry="1.28"/><ellipse cx="340.00" cy="307.54" rx="1.45" ry="1.28"/><ellipse cx="340.00" cy="303.66" rx="1.45" ry="1.28"/><ellipse cx="340.00" cy="299.78" rx="1.45" ry="1.28"/><ellipse cx="340.00" cy="295.91" rx="1.45" ry="1.28"/><ellipse cx="346.20" cy="323.05" rx="1.45" ry="1.28"/><ellipse cx="346.20" cy="319.17" rx="1.45" ry="1.28"/><ellipse cx="346.20" cy="315.29" rx="1.45" ry="1.28"/><ellipse cx="346.20" cy="311.41" rx="1.45" ry="1.28"/><ellipse cx="346.20" cy="307.54" rx="1.45" ry="1.28"/><ellipse cx="346.20" cy="303.66" rx="1.45" ry="1.28"/><ellipse cx="346.20" cy="299.78" rx="1.45" ry="1.28"/><ellipse cx="346.20" cy="295.91" rx="1.45" ry="1.28"/><ellipse cx="352.40" cy="307.54" rx="1.45" ry="1.28"/><ellipse cx="352.40" cy="303.66" rx="1.45" ry="1.28"/><ellipse cx="352.40" cy="299.78" rx="1.45" ry="1.28"/><ellipse cx="352.40" cy="295.91" rx="1.45" ry="1.28"/></g>
</g>
<g>
<path d="M37.15,414.45V500.20" fill="none" stroke="#969696" stroke-width="1.7"/>
<path d="M36.30,499.50H172.87" fill="none" stroke="#969696" stroke-width="1.4"/>
<path d="M37.20,499.50v-1.5M37.15,499.50h1.5M68.03,499.50v-1.5M37.15,480.17h1.5M98.87,499.50v-1.5M37.15,460.84h1.5M129.70,499.50v-1.5M37.15,441.51h1.5M160.54,499.50v-1.5M37.15,422.18h1.5" fill="none" stroke="#333" stroke-width="0.6"/>
<text class="s" transform="translate(36.45,509.80) rotate(0.03) scale(1.3,1)" font-size="7.1" text-anchor="middle" fill="#262626" stroke="#262626" stroke-width="0.16">0</text>
<text class="s" transform="translate(34.00,502.20) rotate(0.03) scale(1.3,1)" font-size="7.1" text-anchor="end" fill="#262626" stroke="#262626" stroke-width="0.16">0</text>
<text class="s" transform="translate(67.35,509.80) rotate(0.03) scale(1.3,1)" font-size="7.1" text-anchor="middle" fill="#262626" stroke="#262626" stroke-width="0.16">5</text>
<text class="s" transform="translate(34.00,482.87) rotate(0.03) scale(1.3,1)" font-size="7.1" text-anchor="end" fill="#262626" stroke="#262626" stroke-width="0.16">5</text>
<text class="s" transform="translate(98.25,509.80) rotate(0.03) scale(1.3,1)" font-size="7.1" text-anchor="middle" fill="#262626" stroke="#262626" stroke-width="0.16">10</text>
<text class="s" transform="translate(34.00,463.54) rotate(0.03) scale(1.3,1)" font-size="7.1" text-anchor="end" fill="#262626" stroke="#262626" stroke-width="0.16">10</text>
<text class="s" transform="translate(129.15,509.80) rotate(0.03) scale(1.3,1)" font-size="7.1" text-anchor="middle" fill="#262626" stroke="#262626" stroke-width="0.16">15</text>
<text class="s" transform="translate(34.00,444.21) rotate(0.03) scale(1.3,1)" font-size="7.1" text-anchor="end" fill="#262626" stroke="#262626" stroke-width="0.16">15</text>
<text class="s" transform="translate(160.05,509.80) rotate(0.03) scale(1.3,1)" font-size="7.1" text-anchor="middle" fill="#262626" stroke="#262626" stroke-width="0.16">20</text>
<text class="s" transform="translate(34.00,424.88) rotate(0.03) scale(1.3,1)" font-size="7.1" text-anchor="end" fill="#262626" stroke="#262626" stroke-width="0.16">20</text>
<text class="s" transform="translate(104.84,411.15) rotate(0.03) scale(1.17,1)" font-size="8.1" text-anchor="middle" fill="#1a1a1a" stroke="#1a1a1a" stroke-width="0.24">foot</text>
<text class="s" transform="translate(19.90,456.97) rotate(-90) scale(0.74,1)" font-size="10.3" text-anchor="middle" fill="#262626" stroke="#262626" stroke-width="0.16">channel</text>
<text class="s" transform="translate(104.34,520.20) rotate(0.03) scale(1.22,1)" font-size="7.9" text-anchor="middle" fill="#262626" stroke="#262626" stroke-width="0.16">channel</text>
<g fill="none" stroke="#1c1c1c" stroke-width="1.0"><ellipse cx="43.37" cy="495.63" rx="1.45" ry="1.28"/><ellipse cx="43.37" cy="487.90" rx="1.45" ry="1.28"/><ellipse cx="43.37" cy="484.04" rx="1.45" ry="1.28"/><ellipse cx="43.37" cy="480.17" rx="1.45" ry="1.28"/><ellipse cx="43.37" cy="476.30" rx="1.45" ry="1.28"/><ellipse cx="43.37" cy="460.84" rx="1.45" ry="1.28"/><ellipse cx="49.53" cy="491.77" rx="1.45" ry="1.28"/><ellipse cx="49.53" cy="487.90" rx="1.45" ry="1.28"/><ellipse cx="49.53" cy="484.04" rx="1.45" ry="1.28"/><ellipse cx="49.53" cy="468.57" rx="1.45" ry="1.28"/><ellipse cx="49.53" cy="464.71" rx="1.45" ry="1.28"/><ellipse cx="55.70" cy="495.63" rx="1.45" ry="1.28"/><ellipse cx="55.70" cy="491.77" rx="1.45" ry="1.28"/><ellipse cx="55.70" cy="487.90" rx="1.45" ry="1.28"/><ellipse cx="55.70" cy="484.04" rx="1.45" ry="1.28"/><ellipse cx="55.70" cy="480.17" rx="1.45" ry="1.28"/><ellipse cx="55.70" cy="464.71" rx="1.45" ry="1.28"/><ellipse cx="55.70" cy="460.84" rx="1.45" ry="1.28"/><ellipse cx="55.70" cy="456.97" rx="1.45" ry="1.28"/><ellipse cx="61.87" cy="495.63" rx="1.45" ry="1.28"/><ellipse cx="61.87" cy="491.77" rx="1.45" ry="1.28"/><ellipse cx="61.87" cy="487.90" rx="1.45" ry="1.28"/><ellipse cx="61.87" cy="484.04" rx="1.45" ry="1.28"/><ellipse cx="61.87" cy="480.17" rx="1.45" ry="1.28"/><ellipse cx="61.87" cy="476.30" rx="1.45" ry="1.28"/><ellipse cx="61.87" cy="464.71" rx="1.45" ry="1.28"/><ellipse cx="61.87" cy="460.84" rx="1.45" ry="1.28"/><ellipse cx="61.87" cy="456.97" rx="1.45" ry="1.28"/><ellipse cx="68.03" cy="495.63" rx="1.45" ry="1.28"/><ellipse cx="68.03" cy="487.90" rx="1.45" ry="1.28"/><ellipse cx="68.03" cy="484.04" rx="1.45" ry="1.28"/><ellipse cx="68.03" cy="480.17" rx="1.45" ry="1.28"/><ellipse cx="68.03" cy="476.30" rx="1.45" ry="1.28"/><ellipse cx="68.03" cy="460.84" rx="1.45" ry="1.28"/><ellipse cx="68.03" cy="456.97" rx="1.45" ry="1.28"/><ellipse cx="68.03" cy="453.11" rx="1.45" ry="1.28"/><ellipse cx="74.20" cy="495.63" rx="1.45" ry="1.28"/><ellipse cx="74.20" cy="484.04" rx="1.45" ry="1.28"/><ellipse cx="74.20" cy="480.17" rx="1.45" ry="1.28"/><ellipse cx="74.20" cy="476.30" rx="1.45" ry="1.28"/><ellipse cx="74.20" cy="460.84" rx="1.45" ry="1.28"/><ellipse cx="74.20" cy="456.97" rx="1.45" ry="1.28"/><ellipse cx="74.20" cy="453.11" rx="1.45" ry="1.28"/><ellipse cx="74.20" cy="449.24" rx="1.45" ry="1.28"/><ellipse cx="80.37" cy="472.44" rx="1.45" ry="1.28"/><ellipse cx="80.37" cy="468.57" rx="1.45" ry="1.28"/><ellipse cx="86.54" cy="491.77" rx="1.45" ry="1.28"/><ellipse cx="86.54" cy="472.44" rx="1.45" ry="1.28"/><ellipse cx="86.54" cy="468.57" rx="1.45" ry="1.28"/><ellipse cx="86.54" cy="464.71" rx="1.45" ry="1.28"/><ellipse cx="86.54" cy="445.38" rx="1.45" ry="1.28"/><ellipse cx="86.54" cy="441.51" rx="1.45" ry="1.28"/><ellipse cx="92.70" cy="491.77" rx="1.45" ry="1.28"/><ellipse cx="92.70" cy="487.90" rx="1.45" ry="1.28"/><ellipse cx="92.70" cy="484.04" rx="1.45" ry="1.28"/><ellipse cx="92.70" cy="468.57" rx="1.45" ry="1.28"/><ellipse cx="92.70" cy="464.71" rx="1.45" ry="1.28"/><ellipse cx="92.70" cy="460.84" rx="1.45" ry="1.28"/><ellipse cx="92.70" cy="456.97" rx="1.45" ry="1.28"/><ellipse cx="92.70" cy="445.38" rx="1.45" ry="1.28"/><ellipse cx="92.70" cy="441.51" rx="1.45" ry="1.28"/><ellipse cx="92.70" cy="437.64" rx="1.45" ry="1.28"/><ellipse cx="98.87" cy="495.63" rx="1.45" ry="1.28"/><ellipse cx="98.87" cy="487.90" rx="1.45" ry="1.28"/><ellipse cx="98.87" cy="484.04" rx="1.45" ry="1.28"/><ellipse cx="98.87" cy="480.17" rx="1.45" ry="1.28"/><ellipse cx="98.87" cy="476.30" rx="1.45" ry="1.28"/><ellipse cx="98.87" cy="464.71" rx="1.45" ry="1.28"/><ellipse cx="98.87" cy="460.84" rx="1.45" ry="1.28"/><ellipse cx="98.87" cy="456.97" rx="1.45" ry="1.28"/><ellipse cx="98.87" cy="453.11" rx="1.45" ry="1.28"/><ellipse cx="98.87" cy="441.51" rx="1.45" ry="1.28"/><ellipse cx="98.87" cy="437.64" rx="1.45" ry="1.28"/><ellipse cx="98.87" cy="433.78" rx="1.45" ry="1.28"/><ellipse cx="105.04" cy="487.90" rx="1.45" ry="1.28"/><ellipse cx="105.04" cy="484.04" rx="1.45" ry="1.28"/><ellipse cx="105.04" cy="480.17" rx="1.45" ry="1.28"/><ellipse cx="105.04" cy="476.30" rx="1.45" ry="1.28"/><ellipse cx="105.04" cy="464.71" rx="1.45" ry="1.28"/><ellipse cx="105.04" cy="460.84" rx="1.45" ry="1.28"/><ellipse cx="105.04" cy="456.97" rx="1.45" ry="1.28"/><ellipse cx="105.04" cy="453.11" rx="1.45" ry="1.28"/><ellipse cx="105.04" cy="449.24" rx="1.45" ry="1.28"/><ellipse cx="105.04" cy="441.51" rx="1.45" ry="1.28"/><ellipse cx="105.04" cy="437.64" rx="1.45" ry="1.28"/><ellipse cx="105.04" cy="433.78" rx="1.45" ry="1.28"/><ellipse cx="105.04" cy="429.91" rx="1.45" ry="1.28"/><ellipse cx="111.20" cy="480.17" rx="1.45" ry="1.28"/><ellipse cx="111.20" cy="476.30" rx="1.45" ry="1.28"/><ellipse cx="111.20" cy="460.84" rx="1.45" ry="1.28"/><ellipse cx="111.20" cy="456.97" rx="1.45" ry="1.28"/><ellipse cx="111.20" cy="453.11" rx="1.45" ry="1.28"/><ellipse cx="111.20" cy="449.24" rx="1.45" ry="1.28"/><ellipse cx="111.20" cy="437.64" rx="1.45" ry="1.28"/><ellipse cx="111.20" cy="433.78" rx="1.45" ry="1.28"/><ellipse cx="111.20" cy="429.91" rx="1.45" ry="1.28"/><ellipse cx="117.37" cy="476.30" rx="1.45" ry="1.28"/><ellipse cx="117.37" cy="456.97" rx="1.45" ry="1.28"/><ellipse cx="117.37" cy="453.11" rx="1.45" ry="1.28"/><ellipse cx="117.37" cy="449.24" rx="1.45" ry="1.28"/><ellipse cx="117.37" cy="429.91" rx="1.45" ry="1.28"/><ellipse cx="123.54" cy="468.57" rx="1.45" ry="1.28"/><ellipse cx="123.54" cy="464.71" rx="1.45" ry="1.28"/><ellipse cx="123.54" cy="445.38" rx="1.45" ry="1.28"/><ellipse cx="123.54" cy="441.51" rx="1.45" ry="1.28"/><ellipse cx="123.54" cy="437.64" rx="1.45" ry="1.28"/><ellipse cx="123.54" cy="426.05" rx="1.45" ry="1.28"/><ellipse cx="129.70" cy="468.57" rx="1.45" ry="1.28"/><ellipse cx="129.70" cy="464.71" rx="1.45" ry="1.28"/><ellipse cx="129.70" cy="460.84" rx="1.45" ry="1.28"/><ellipse cx="129.70" cy="456.97" rx="1.45" ry="1.28"/><ellipse cx="129.70" cy="445.38" rx="1.45" ry="1.28"/><ellipse cx="129.70" cy="441.51" rx="1.45" ry="1.28"/><ellipse cx="129.70" cy="437.64" rx="1.45" ry="1.28"/><ellipse cx="129.70" cy="433.78" rx="1.45" ry="1.28"/><ellipse cx="129.70" cy="426.05" rx="1.45" ry="1.28"/><ellipse cx="129.70" cy="422.18" rx="1.45" ry="1.28"/><ellipse cx="129.70" cy="418.31" rx="1.45" ry="1.28"/><ellipse cx="135.87" cy="464.71" rx="1.45" ry="1.28"/><ellipse cx="135.87" cy="460.84" rx="1.45" ry="1.28"/><ellipse cx="135.87" cy="456.97" rx="1.45" ry="1.28"/><ellipse cx="135.87" cy="453.11" rx="1.45" ry="1.28"/><ellipse cx="135.87" cy="445.38" rx="1.45" ry="1.28"/><ellipse cx="135.87" cy="441.51" rx="1.45" ry="1.28"/><ellipse cx="135.87" cy="437.64" rx="1.45" ry="1.28"/><ellipse cx="135.87" cy="433.78" rx="1.45" ry="1.28"/><ellipse cx="135.87" cy="429.91" rx="1.45" ry="1.28"/><ellipse cx="135.87" cy="426.05" rx="1.45" ry="1.28"/><ellipse cx="135.87" cy="422.18" rx="1.45" ry="1.28"/><ellipse cx="135.87" cy="418.31" rx="1.45" ry="1.28"/><ellipse cx="142.04" cy="460.84" rx="1.45" ry="1.28"/><ellipse cx="142.04" cy="456.97" rx="1.45" ry="1.28"/><ellipse cx="142.04" cy="453.11" rx="1.45" ry="1.28"/><ellipse cx="142.04" cy="441.51" rx="1.45" ry="1.28"/><ellipse cx="142.04" cy="437.64" rx="1.45" ry="1.28"/><ellipse cx="142.04" cy="433.78" rx="1.45" ry="1.28"/><ellipse cx="142.04" cy="429.91" rx="1.45" ry="1.28"/><ellipse cx="142.04" cy="426.05" rx="1.45" ry="1.28"/><ellipse cx="142.04" cy="422.18" rx="1.45" ry="1.28"/><ellipse cx="142.04" cy="418.31" rx="1.45" ry="1.28"/><ellipse cx="148.21" cy="456.97" rx="1.45" ry="1.28"/><ellipse cx="148.21" cy="453.11" rx="1.45" ry="1.28"/><ellipse cx="148.21" cy="449.24" rx="1.45" ry="1.28"/><ellipse cx="148.21" cy="437.64" rx="1.45" ry="1.28"/><ellipse cx="148.21" cy="433.78" rx="1.45" ry="1.28"/><ellipse cx="148.21" cy="429.91" rx="1.45" ry="1.28"/><ellipse cx="148.21" cy="422.18" rx="1.45" ry="1.28"/><ellipse cx="148.21" cy="418.31" rx="1.45" ry="1.28"/><ellipse cx="154.37" cy="445.38" rx="1.45" ry="1.28"/><ellipse cx="154.37" cy="441.51" rx="1.45" ry="1.28"/><ellipse cx="154.37" cy="437.64" rx="1.45" ry="1.28"/><ellipse cx="154.37" cy="433.78" rx="1.45" ry="1.28"/><ellipse cx="154.37" cy="426.05" rx="1.45" ry="1.28"/><ellipse cx="154.37" cy="422.18" rx="1.45" ry="1.28"/><ellipse cx="154.37" cy="418.31" rx="1.45" ry="1.28"/><ellipse cx="154.37" cy="414.45" rx="1.45" ry="1.28"/><ellipse cx="160.54" cy="441.51" rx="1.45" ry="1.28"/><ellipse cx="160.54" cy="437.64" rx="1.45" ry="1.28"/><ellipse cx="160.54" cy="433.78" rx="1.45" ry="1.28"/><ellipse cx="160.54" cy="429.91" rx="1.45" ry="1.28"/><ellipse cx="160.54" cy="426.05" rx="1.45" ry="1.28"/><ellipse cx="160.54" cy="422.18" rx="1.45" ry="1.28"/><ellipse cx="160.54" cy="418.31" rx="1.45" ry="1.28"/><ellipse cx="160.54" cy="414.45" rx="1.45" ry="1.28"/><ellipse cx="166.71" cy="441.51" rx="1.45" ry="1.28"/><ellipse cx="166.71" cy="437.64" rx="1.45" ry="1.28"/><ellipse cx="166.71" cy="433.78" rx="1.45" ry="1.28"/><ellipse cx="166.71" cy="429.91" rx="1.45" ry="1.28"/><ellipse cx="166.71" cy="426.05" rx="1.45" ry="1.28"/><ellipse cx="166.71" cy="422.18" rx="1.45" ry="1.28"/><ellipse cx="166.71" cy="418.31" rx="1.45" ry="1.28"/><ellipse cx="166.71" cy="414.45" rx="1.45" ry="1.28"/><ellipse cx="172.87" cy="426.05" rx="1.45" ry="1.28"/><ellipse cx="172.87" cy="422.18" rx="1.45" ry="1.28"/><ellipse cx="172.87" cy="418.31" rx="1.45" ry="1.28"/><ellipse cx="172.87" cy="414.45" rx="1.45" ry="1.28"/></g>
</g>
<g>
<path d="M215.55,414.46V500.30" fill="none" stroke="#969696" stroke-width="1.7"/>
<path d="M214.70,499.60H352.42" fill="none" stroke="#969696" stroke-width="1.4"/>
<path d="M215.80,499.60v-1.5M215.55,499.60h1.5M246.85,499.60v-1.5M215.55,480.25h1.5M277.90,499.60v-1.5M215.55,460.90h1.5M308.95,499.60v-1.5M215.55,441.55h1.5M340.00,499.60v-1.5M215.55,422.20h1.5" fill="none" stroke="#333" stroke-width="0.6"/>
<text class="s" transform="translate(215.90,509.90) rotate(0.03) scale(1.3,1)" font-size="7.1" text-anchor="middle" fill="#262626" stroke="#262626" stroke-width="0.16">0</text>
<text class="s" transform="translate(212.40,502.30) rotate(0.03) scale(1.3,1)" font-size="7.1" text-anchor="end" fill="#262626" stroke="#262626" stroke-width="0.16">0</text>
<text class="s" transform="translate(246.95,509.90) rotate(0.03) scale(1.3,1)" font-size="7.1" text-anchor="middle" fill="#262626" stroke="#262626" stroke-width="0.16">5</text>
<text class="s" transform="translate(212.40,482.95) rotate(0.03) scale(1.3,1)" font-size="7.1" text-anchor="end" fill="#262626" stroke="#262626" stroke-width="0.16">5</text>
<text class="s" transform="translate(278.00,509.90) rotate(0.03) scale(1.3,1)" font-size="7.1" text-anchor="middle" fill="#262626" stroke="#262626" stroke-width="0.16">10</text>
<text class="s" transform="translate(212.40,463.60) rotate(0.03) scale(1.3,1)" font-size="7.1" text-anchor="end" fill="#262626" stroke="#262626" stroke-width="0.16">10</text>
<text class="s" transform="translate(309.05,509.90) rotate(0.03) scale(1.3,1)" font-size="7.1" text-anchor="middle" fill="#262626" stroke="#262626" stroke-width="0.16">15</text>
<text class="s" transform="translate(212.40,444.25) rotate(0.03) scale(1.3,1)" font-size="7.1" text-anchor="end" fill="#262626" stroke="#262626" stroke-width="0.16">15</text>
<text class="s" transform="translate(340.10,509.90) rotate(0.03) scale(1.3,1)" font-size="7.1" text-anchor="middle" fill="#262626" stroke="#262626" stroke-width="0.16">20</text>
<text class="s" transform="translate(212.40,424.90) rotate(0.03) scale(1.3,1)" font-size="7.1" text-anchor="end" fill="#262626" stroke="#262626" stroke-width="0.16">20</text>
<text class="s" transform="translate(283.91,411.16) rotate(0.03) scale(1.17,1)" font-size="8.1" text-anchor="middle" fill="#1a1a1a" stroke="#1a1a1a" stroke-width="0.24">tongue</text>
<text class="s" transform="translate(283.41,520.30) rotate(0.03) scale(1.22,1)" font-size="7.9" text-anchor="middle" fill="#262626" stroke="#262626" stroke-width="0.16">channel</text>
<g fill="none" stroke="#1c1c1c" stroke-width="1.0"><ellipse cx="222.01" cy="495.73" rx="1.45" ry="1.28"/><ellipse cx="222.01" cy="487.99" rx="1.45" ry="1.28"/><ellipse cx="222.01" cy="484.12" rx="1.45" ry="1.28"/><ellipse cx="222.01" cy="480.25" rx="1.45" ry="1.28"/><ellipse cx="222.01" cy="476.38" rx="1.45" ry="1.28"/><ellipse cx="228.22" cy="491.86" rx="1.45" ry="1.28"/><ellipse cx="228.22" cy="487.99" rx="1.45" ry="1.28"/><ellipse cx="228.22" cy="484.12" rx="1.45" ry="1.28"/><ellipse cx="228.22" cy="468.64" rx="1.45" ry="1.28"/><ellipse cx="228.22" cy="464.77" rx="1.45" ry="1.28"/><ellipse cx="234.43" cy="495.73" rx="1.45" ry="1.28"/><ellipse cx="234.43" cy="491.86" rx="1.45" ry="1.28"/><ellipse cx="234.43" cy="487.99" rx="1.45" ry="1.28"/><ellipse cx="234.43" cy="484.12" rx="1.45" ry="1.28"/><ellipse cx="234.43" cy="480.25" rx="1.45" ry="1.28"/><ellipse cx="234.43" cy="464.77" rx="1.45" ry="1.28"/><ellipse cx="234.43" cy="460.90" rx="1.45" ry="1.28"/><ellipse cx="240.64" cy="495.73" rx="1.45" ry="1.28"/><ellipse cx="240.64" cy="491.86" rx="1.45" ry="1.28"/><ellipse cx="240.64" cy="487.99" rx="1.45" ry="1.28"/><ellipse cx="240.64" cy="484.12" rx="1.45" ry="1.28"/><ellipse cx="240.64" cy="480.25" rx="1.45" ry="1.28"/><ellipse cx="240.64" cy="476.38" rx="1.45" ry="1.28"/><ellipse cx="240.64" cy="460.90" rx="1.45" ry="1.28"/><ellipse cx="240.64" cy="457.03" rx="1.45" ry="1.28"/><ellipse cx="246.85" cy="495.73" rx="1.45" ry="1.28"/><ellipse cx="246.85" cy="487.99" rx="1.45" ry="1.28"/><ellipse cx="246.85" cy="484.12" rx="1.45" ry="1.28"/><ellipse cx="246.85" cy="480.25" rx="1.45" ry="1.28"/><ellipse cx="246.85" cy="476.38" rx="1.45" ry="1.28"/><ellipse cx="246.85" cy="460.90" rx="1.45" ry="1.28"/><ellipse cx="246.85" cy="457.03" rx="1.45" ry="1.28"/><ellipse cx="246.85" cy="453.16" rx="1.45" ry="1.28"/><ellipse cx="253.06" cy="495.73" rx="1.45" ry="1.28"/><ellipse cx="253.06" cy="484.12" rx="1.45" ry="1.28"/><ellipse cx="253.06" cy="480.25" rx="1.45" ry="1.28"/><ellipse cx="253.06" cy="476.38" rx="1.45" ry="1.28"/><ellipse cx="253.06" cy="457.03" rx="1.45" ry="1.28"/><ellipse cx="253.06" cy="453.16" rx="1.45" ry="1.28"/><ellipse cx="259.27" cy="472.51" rx="1.45" ry="1.28"/><ellipse cx="259.27" cy="468.64" rx="1.45" ry="1.28"/><ellipse cx="265.48" cy="491.86" rx="1.45" ry="1.28"/><ellipse cx="265.48" cy="472.51" rx="1.45" ry="1.28"/><ellipse cx="265.48" cy="468.64" rx="1.45" ry="1.28"/><ellipse cx="265.48" cy="464.77" rx="1.45" ry="1.28"/><ellipse cx="265.48" cy="445.42" rx="1.45" ry="1.28"/><ellipse cx="265.48" cy="441.55" rx="1.45" ry="1.28"/><ellipse cx="271.69" cy="491.86" rx="1.45" ry="1.28"/><ellipse cx="271.69" cy="487.99" rx="1.45" ry="1.28"/><ellipse cx="271.69" cy="468.64" rx="1.45" ry="1.28"/><ellipse cx="271.69" cy="464.77" rx="1.45" ry="1.28"/><ellipse cx="271.69" cy="460.90" rx="1.45" ry="1.28"/><ellipse cx="271.69" cy="457.03" rx="1.45" ry="1.28"/><ellipse cx="271.69" cy="445.42" rx="1.45" ry="1.28"/><ellipse cx="271.69" cy="441.55" rx="1.45" ry="1.28"/><ellipse cx="271.69" cy="437.68" rx="1.45" ry="1.28"/><ellipse cx="277.90" cy="487.99" rx="1.45" ry="1.28"/><ellipse cx="277.90" cy="484.12" rx="1.45" ry="1.28"/><ellipse cx="277.90" cy="480.25" rx="1.45" ry="1.28"/><ellipse cx="277.90" cy="464.77" rx="1.45" ry="1.28"/><ellipse cx="277.90" cy="460.90" rx="1.45" ry="1.28"/><ellipse cx="277.90" cy="457.03" rx="1.45" ry="1.28"/><ellipse cx="277.90" cy="441.55" rx="1.45" ry="1.28"/><ellipse cx="277.90" cy="437.68" rx="1.45" ry="1.28"/><ellipse cx="277.90" cy="433.81" rx="1.45" ry="1.28"/><ellipse cx="284.11" cy="484.12" rx="1.45" ry="1.28"/><ellipse cx="284.11" cy="480.25" rx="1.45" ry="1.28"/><ellipse cx="284.11" cy="476.38" rx="1.45" ry="1.28"/><ellipse cx="284.11" cy="464.77" rx="1.45" ry="1.28"/><ellipse cx="284.11" cy="460.90" rx="1.45" ry="1.28"/><ellipse cx="284.11" cy="457.03" rx="1.45" ry="1.28"/><ellipse cx="284.11" cy="453.16" rx="1.45" ry="1.28"/><ellipse cx="284.11" cy="437.68" rx="1.45" ry="1.28"/><ellipse cx="284.11" cy="433.81" rx="1.45" ry="1.28"/><ellipse cx="284.11" cy="429.94" rx="1.45" ry="1.28"/><ellipse cx="290.32" cy="480.25" rx="1.45" ry="1.28"/><ellipse cx="290.32" cy="476.38" rx="1.45" ry="1.28"/><ellipse cx="290.32" cy="457.03" rx="1.45" ry="1.28"/><ellipse cx="290.32" cy="453.16" rx="1.45" ry="1.28"/><ellipse cx="290.32" cy="449.29" rx="1.45" ry="1.28"/><ellipse cx="290.32" cy="433.81" rx="1.45" ry="1.28"/><ellipse cx="290.32" cy="429.94" rx="1.45" ry="1.28"/><ellipse cx="296.53" cy="453.16" rx="1.45" ry="1.28"/><ellipse cx="296.53" cy="449.29" rx="1.45" ry="1.28"/><ellipse cx="296.53" cy="429.94" rx="1.45" ry="1.28"/><ellipse cx="302.74" cy="468.64" rx="1.45" ry="1.28"/><ellipse cx="302.74" cy="464.77" rx="1.45" ry="1.28"/><ellipse cx="302.74" cy="445.42" rx="1.45" ry="1.28"/><ellipse cx="302.74" cy="441.55" rx="1.45" ry="1.28"/><ellipse cx="302.74" cy="437.68" rx="1.45" ry="1.28"/><ellipse cx="302.74" cy="426.07" rx="1.45" ry="1.28"/><ellipse cx="308.95" cy="468.64" rx="1.45" ry="1.28"/><ellipse cx="308.95" cy="464.77" rx="1.45" ry="1.28"/><ellipse cx="308.95" cy="460.90" rx="1.45" ry="1.28"/><ellipse cx="308.95" cy="445.42" rx="1.45" ry="1.28"/><ellipse cx="308.95" cy="441.55" rx="1.45" ry="1.28"/><ellipse cx="308.95" cy="437.68" rx="1.45" ry="1.28"/><ellipse cx="308.95" cy="433.81" rx="1.45" ry="1.28"/><ellipse cx="308.95" cy="426.07" rx="1.45" ry="1.28"/><ellipse cx="308.95" cy="422.20" rx="1.45" ry="1.28"/><ellipse cx="315.16" cy="464.77" rx="1.45" ry="1.28"/><ellipse cx="315.16" cy="460.90" rx="1.45" ry="1.28"/><ellipse cx="315.16" cy="457.03" rx="1.45" ry="1.28"/><ellipse cx="315.16" cy="445.42" rx="1.45" ry="1.28"/><ellipse cx="315.16" cy="441.55" rx="1.45" ry="1.28"/><ellipse cx="315.16" cy="437.68" rx="1.45" ry="1.28"/><ellipse cx="315.16" cy="433.81" rx="1.45" ry="1.28"/><ellipse cx="315.16" cy="429.94" rx="1.45" ry="1.28"/><ellipse cx="315.16" cy="426.07" rx="1.45" ry="1.28"/><ellipse cx="315.16" cy="422.20" rx="1.45" ry="1.28"/><ellipse cx="315.16" cy="418.33" rx="1.45" ry="1.28"/><ellipse cx="321.37" cy="460.90" rx="1.45" ry="1.28"/><ellipse cx="321.37" cy="457.03" rx="1.45" ry="1.28"/><ellipse cx="321.37" cy="453.16" rx="1.45" ry="1.28"/><ellipse cx="321.37" cy="441.55" rx="1.45" ry="1.28"/><ellipse cx="321.37" cy="437.68" rx="1.45" ry="1.28"/><ellipse cx="321.37" cy="433.81" rx="1.45" ry="1.28"/><ellipse cx="321.37" cy="429.94" rx="1.45" ry="1.28"/><ellipse cx="321.37" cy="426.07" rx="1.45" ry="1.28"/><ellipse cx="321.37" cy="422.20" rx="1.45" ry="1.28"/><ellipse cx="321.37" cy="418.33" rx="1.45" ry="1.28"/><ellipse cx="327.58" cy="457.03" rx="1.45" ry="1.28"/><ellipse cx="327.58" cy="453.16" rx="1.45" ry="1.28"/><ellipse cx="327.58" cy="449.29" rx="1.45" ry="1.28"/><ellipse cx="327.58" cy="437.68" rx="1.45" ry="1.28"/><ellipse cx="327.58" cy="433.81" rx="1.45" ry="1.28"/><ellipse cx="327.58" cy="429.94" rx="1.45" ry="1.28"/><ellipse cx="327.58" cy="422.20" rx="1.45" ry="1.28"/><ellipse cx="327.58" cy="418.33" rx="1.45" ry="1.28"/><ellipse cx="333.79" cy="445.42" rx="1.45" ry="1.28"/><ellipse cx="333.79" cy="441.55" rx="1.45" ry="1.28"/><ellipse cx="333.79" cy="437.68" rx="1.45" ry="1.28"/><ellipse cx="333.79" cy="433.81" rx="1.45" ry="1.28"/><ellipse cx="333.79" cy="426.07" rx="1.45" ry="1.28"/><ellipse cx="333.79" cy="422.20" rx="1.45" ry="1.28"/><ellipse cx="333.79" cy="418.33" rx="1.45" ry="1.28"/><ellipse cx="333.79" cy="414.46" rx="1.45" ry="1.28"/><ellipse cx="340.00" cy="441.55" rx="1.45" ry="1.28"/><ellipse cx="340.00" cy="437.68" rx="1.45" ry="1.28"/><ellipse cx="340.00" cy="433.81" rx="1.45" ry="1.28"/><ellipse cx="340.00" cy="429.94" rx="1.45" ry="1.28"/><ellipse cx="340.00" cy="426.07" rx="1.45" ry="1.28"/><ellipse cx="340.00" cy="422.20" rx="1.45" ry="1.28"/><ellipse cx="340.00" cy="418.33" rx="1.45" ry="1.28"/><ellipse cx="340.00" cy="414.46" rx="1.45" ry="1.28"/><ellipse cx="346.21" cy="437.68" rx="1.45" ry="1.28"/><ellipse cx="346.21" cy="433.81" rx="1.45" ry="1.28"/><ellipse cx="346.21" cy="429.94" rx="1.45" ry="1.28"/><ellipse cx="346.21" cy="426.07" rx="1.45" ry="1.28"/><ellipse cx="346.21" cy="422.20" rx="1.45" ry="1.28"/><ellipse cx="346.21" cy="418.33" rx="1.45" ry="1.28"/><ellipse cx="346.21" cy="414.46" rx="1.45" ry="1.28"/><ellipse cx="352.42" cy="426.07" rx="1.45" ry="1.28"/><ellipse cx="352.42" cy="422.20" rx="1.45" ry="1.28"/><ellipse cx="352.42" cy="418.33" rx="1.45" ry="1.28"/><ellipse cx="352.42" cy="414.46" rx="1.45" ry="1.28"/></g>
</g>
<text class="r" transform="translate(183.30,267.80) rotate(0.03) scale(1.0,1)" font-size="11.8" text-anchor="middle" font-weight="bold" fill="#1a1a1a" stroke="#1a1a1a" stroke-width="0">(a)</text>
<text class="r" transform="translate(183.30,541.80) rotate(0.03) scale(1.0,1)" font-size="11.8" text-anchor="middle" font-weight="bold" fill="#1a1a1a" stroke="#1a1a1a" stroke-width="0">(b)</text>
</g>
</svg>
</body></html>
